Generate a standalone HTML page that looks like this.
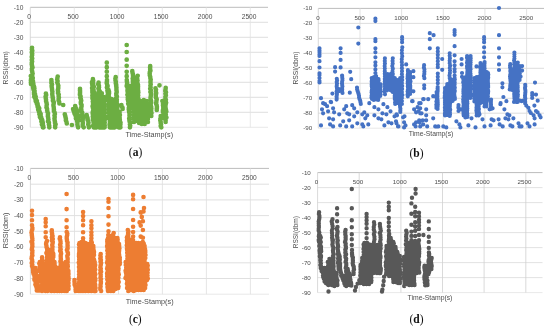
<!DOCTYPE html>
<html><head><meta charset="utf-8"><title>RSSI</title>
<style>
html,body{margin:0;padding:0;background:#fff}
svg{display:block}
.t{font-family:"Liberation Sans",sans-serif;font-size:7px;fill:#4d4d4d}
.cap{font-family:"Liberation Serif",serif;font-size:11.5px;font-weight:bold;fill:#111}
.pr{font-weight:normal}
</style></head><body>
<svg width="550" height="328" viewBox="0 0 550 328">
<rect width="550" height="328" fill="#fff"/>
<defs><filter id="soft" x="0" y="0" width="550" height="328" filterUnits="userSpaceOnUse"><feGaussianBlur stdDeviation="0.4"/></filter></defs>
<g filter="url(#soft)">
<line x1="30.3" x2="268.0" y1="7.3" y2="7.3" stroke="#bcbcbc" stroke-width="1.0"/>
<line x1="30.3" x2="268.0" y1="22.3" y2="22.3" stroke="#d6d6d6" stroke-width="0.8"/>
<line x1="30.3" x2="268.0" y1="37.3" y2="37.3" stroke="#d6d6d6" stroke-width="0.8"/>
<line x1="30.3" x2="268.0" y1="52.3" y2="52.3" stroke="#d6d6d6" stroke-width="0.8"/>
<line x1="30.3" x2="268.0" y1="67.3" y2="67.3" stroke="#d6d6d6" stroke-width="0.8"/>
<line x1="30.3" x2="268.0" y1="82.3" y2="82.3" stroke="#d6d6d6" stroke-width="0.8"/>
<line x1="30.3" x2="268.0" y1="97.3" y2="97.3" stroke="#d6d6d6" stroke-width="0.8"/>
<line x1="30.3" x2="268.0" y1="112.3" y2="112.3" stroke="#d6d6d6" stroke-width="0.8"/>
<line x1="30.3" x2="268.0" y1="127.3" y2="127.3" stroke="#e2e2e2" stroke-width="0.8"/>
<line x1="30.3" x2="30.3" y1="7.3" y2="127.3" stroke="#cfcfcf" stroke-width="0.8"/>
<line x1="74.3" x2="74.3" y1="7.3" y2="127.3" stroke="#e2e2e2" stroke-width="0.8"/>
<line x1="118.3" x2="118.3" y1="7.3" y2="127.3" stroke="#e2e2e2" stroke-width="0.8"/>
<line x1="162.3" x2="162.3" y1="7.3" y2="127.3" stroke="#e2e2e2" stroke-width="0.8"/>
<line x1="206.3" x2="206.3" y1="7.3" y2="127.3" stroke="#e2e2e2" stroke-width="0.8"/>
<line x1="250.3" x2="250.3" y1="7.3" y2="127.3" stroke="#e2e2e2" stroke-width="0.8"/>
<text class="t" x="23.4" y="9.6" text-anchor="end" style="font-size:6.6px">-10</text>
<text class="t" x="23.4" y="24.6" text-anchor="end" style="font-size:6.6px">-20</text>
<text class="t" x="23.4" y="39.6" text-anchor="end" style="font-size:6.6px">-30</text>
<text class="t" x="23.4" y="54.6" text-anchor="end" style="font-size:6.6px">-40</text>
<text class="t" x="23.4" y="69.6" text-anchor="end" style="font-size:6.6px">-50</text>
<text class="t" x="23.4" y="84.6" text-anchor="end" style="font-size:6.6px">-60</text>
<text class="t" x="23.4" y="99.6" text-anchor="end" style="font-size:6.6px">-70</text>
<text class="t" x="23.4" y="114.6" text-anchor="end" style="font-size:6.6px">-80</text>
<text class="t" x="23.4" y="129.6" text-anchor="end" style="font-size:6.6px">-90</text>
<text class="t" x="29.1" y="18.5" text-anchor="middle" style="font-size:6.6px">0</text>
<text class="t" x="73.1" y="18.5" text-anchor="middle" style="font-size:6.6px">500</text>
<text class="t" x="117.1" y="18.5" text-anchor="middle" style="font-size:6.6px">1000</text>
<text class="t" x="161.1" y="18.5" text-anchor="middle" style="font-size:6.6px">1500</text>
<text class="t" x="205.1" y="18.5" text-anchor="middle" style="font-size:6.6px">2000</text>
<text class="t" x="249.1" y="18.5" text-anchor="middle" style="font-size:6.6px">2500</text>
<text class="t" x="8.1" y="67.8" text-anchor="middle" transform="rotate(-90 8.1 67.8)" style="font-size:7.4px" textLength="33.2" lengthAdjust="spacingAndGlyphs">RSSI(dbm)</text>
<text class="t" x="149.3" y="136.7" text-anchor="middle" style="font-size:7.4px" textLength="47.5" lengthAdjust="spacingAndGlyphs">Time-Stamp(s)</text>
<text class="cap" x="135.5" y="156.0" text-anchor="middle"><tspan class="pr">(</tspan>a<tspan class="pr">)</tspan></text>
<path d="M32.0 47.8h0M31.9 49.3h0M32.3 50.8h0M31.8 52.3h0M32.2 53.8h0M32.1 55.3h0M31.8 56.9h0M32.2 58.4h0M31.8 59.9h0M32.1 61.4h0M31.8 62.9h0M31.8 64.4h0M32.1 65.9h0M32.5 67.4h0M31.9 68.9h0M32.0 70.5h0M32.3 72.0h0M32.6 73.5h0M32.3 75.0h0M32.1 76.5h0M32.6 78.0h0M30.8 76.0h0M31.5 77.6h0M31.0 79.2h0M30.9 80.8h0M30.9 82.4h0M31.0 84.0h0M32.8 78.0h0M32.4 79.4h0M32.9 80.9h0M33.1 82.3h0M33.0 83.8h0M33.3 85.2h0M33.0 86.7h0M33.2 88.1h0M33.5 89.6h0M34.0 91.0h0M34.0 92.5h0M34.0 93.9h0M34.4 95.4h0M34.5 96.8h0M34.3 96.8h0M35.2 98.2h0M35.6 99.7h0M35.7 101.1h0M36.5 102.5h0M36.9 103.9h0M37.7 105.4h0M38.0 106.8h0M37.6 106.8h0M38.6 108.3h0M38.2 109.7h0M38.8 111.2h0M39.5 112.7h0M39.3 114.1h0M39.9 115.6h0M39.9 117.0h0M40.8 118.5h0M41.3 120.0h0M41.4 121.4h0M42.1 122.9h0M41.9 124.4h0M42.6 125.8h0M42.9 127.3h0M33.4 84.0h0M33.5 85.4h0M34.1 86.8h0M34.4 88.3h0M34.2 89.7h0M34.6 91.1h0M34.2 92.5h0M35.0 94.0h0M35.2 95.4h0M35.7 96.8h0M35.6 96.8h0M35.6 98.2h0M36.1 99.7h0M36.9 101.1h0M36.8 102.5h0M37.6 103.9h0M37.8 105.4h0M38.3 106.8h0M38.2 106.8h0M39.2 108.3h0M39.0 109.7h0M39.4 111.2h0M39.9 112.7h0M40.7 114.1h0M40.4 115.6h0M41.1 117.0h0M41.5 118.5h0M42.2 120.0h0M42.5 121.4h0M42.9 122.9h0M42.7 124.4h0M43.2 125.8h0M43.5 127.3h0M45.9 93.6h0M46.2 95.1h0M45.6 96.7h0M45.8 98.2h0M46.0 99.7h0M46.1 101.3h0M46.5 102.8h0M46.8 104.3h0M46.6 105.9h0M46.5 107.4h0M47.1 108.9h0M47.2 110.4h0M47.5 112.0h0M48.0 113.5h0M47.9 115.0h0M47.9 116.6h0M48.2 118.1h0M48.4 119.6h0M48.0 121.2h0M48.9 122.7h0M48.9 124.2h0M49.2 125.8h0M49.3 127.3h0M51.4 80.0h0M51.5 81.5h0M51.4 83.0h0M52.0 84.4h0M51.6 85.9h0M51.8 87.4h0M52.0 88.9h0M52.1 90.3h0M52.4 91.8h0M52.3 93.3h0M52.3 94.8h0M52.6 96.3h0M52.7 97.7h0M53.0 99.2h0M52.9 100.7h0M53.8 102.2h0M53.7 103.7h0M53.4 105.1h0M53.6 106.6h0M53.8 108.1h0M53.9 109.6h0M53.9 111.0h0M54.6 112.5h0M54.9 114.0h0M54.5 115.5h0M54.7 117.0h0M54.5 118.4h0M54.6 119.9h0M54.9 121.4h0M55.0 122.9h0M55.6 124.3h0M55.2 125.8h0M55.2 127.3h0M57.7 76.5h0M57.4 78.0h0M57.2 79.5h0M57.6 81.0h0M57.3 82.5h0M57.8 84.0h0M58.3 85.5h0M58.3 87.0h0M58.2 88.5h0M57.9 90.0h0M58.1 91.5h0M58.0 93.0h0M58.7 94.5h0M58.6 96.0h0M58.9 97.5h0M58.6 99.0h0M58.6 100.5h0M59.2 102.0h0M59.4 103.5h0M63.2 105.0h0M64.8 114.3h0M65.2 115.8h0M65.6 117.4h0M65.9 118.9h0M65.9 120.4h0M66.5 122.0h0M66.8 123.5h0M71.9 125.0h0M73.1 109.0h0M73.5 110.5h0M74.1 112.0h0M74.5 113.6h0M75.3 115.1h0M75.9 116.6h0M75.9 118.2h0M76.7 119.7h0M77.1 121.2h0M77.5 122.7h0M77.4 124.2h0M77.6 125.8h0M78.1 127.3h0M75.2 106.0h0M75.6 107.6h0M76.4 109.1h0M77.0 110.7h0M77.4 112.2h0M77.4 113.8h0M78.0 115.3h0M78.5 116.9h0M78.2 118.4h0M79.1 120.0h0M80.0 88.9h0M80.0 90.4h0M80.1 91.9h0M80.0 93.3h0M79.9 94.8h0M80.6 96.3h0M80.3 97.8h0M80.9 99.2h0M81.2 100.7h0M80.8 102.2h0M80.9 103.7h0M81.6 105.1h0M81.5 106.6h0M81.2 108.1h0M81.3 109.6h0M81.4 111.1h0M82.2 112.5h0M82.3 114.0h0M81.8 115.5h0M82.6 117.0h0M82.9 118.4h0M82.7 119.9h0M82.6 121.4h0M82.9 122.9h0M82.7 124.3h0M82.7 125.8h0M83.7 127.3h0M86.7 115.2h0M86.9 116.7h0M87.6 118.2h0M87.5 119.7h0M88.2 121.2h0M88.5 122.8h0M88.2 124.3h0M88.6 125.8h0M88.9 127.3h0M92.9 79.2h0M93.2 80.7h0M93.0 82.2h0M93.2 83.7h0M93.0 85.2h0M93.8 86.7h0M93.3 88.2h0M93.5 89.7h0M93.7 91.2h0M94.0 92.7h0M93.6 94.2h0M94.1 95.7h0M93.8 97.2h0M93.9 98.7h0M94.0 100.2h0M93.6 101.7h0M94.0 103.2h0M93.8 104.8h0M93.7 106.3h0M94.5 107.8h0M94.0 109.3h0M94.3 110.8h0M94.6 112.3h0M94.5 113.8h0M94.4 115.3h0M94.6 116.8h0M94.7 118.3h0M95.0 119.8h0M94.4 121.3h0M94.9 122.8h0M94.7 124.3h0M94.7 125.8h0M95.2 127.3h0M92.0 82.0h0M92.1 83.5h0M92.3 85.0h0M92.5 86.5h0M92.1 88.0h0M92.4 89.5h0M92.3 91.1h0M92.4 92.6h0M92.6 94.1h0M92.4 95.6h0M92.5 97.1h0M92.5 98.6h0M93.0 100.1h0M92.8 101.6h0M93.0 103.1h0M93.1 104.7h0M92.6 106.2h0M92.9 107.7h0M93.3 109.2h0M93.3 110.7h0M92.7 112.2h0M92.7 113.7h0M93.0 115.2h0M92.8 116.7h0M93.0 118.2h0M92.9 119.8h0M93.5 121.3h0M93.6 122.8h0M93.8 124.3h0M93.1 125.8h0M93.7 127.3h0M98.6 82.7h0M98.2 84.2h0M98.9 85.7h0M99.0 87.2h0M98.4 88.6h0M99.1 90.1h0M98.6 91.6h0M98.7 93.1h0M99.2 94.6h0M99.1 96.1h0M98.5 97.6h0M98.8 99.1h0M98.9 100.5h0M98.8 102.0h0M98.7 103.5h0M98.8 105.0h0M99.2 106.5h0M98.6 108.0h0M99.1 109.5h0M99.1 110.9h0M98.7 112.4h0M99.0 113.9h0M99.3 115.4h0M99.3 116.9h0M98.9 118.4h0M99.8 119.9h0M99.6 121.4h0M99.8 122.8h0M99.1 124.3h0M99.3 125.8h0M99.1 127.3h0M101.8 93.3h0M101.4 94.8h0M101.3 96.3h0M101.6 97.7h0M102.1 99.2h0M102.1 100.7h0M101.7 102.2h0M101.6 103.6h0M102.4 105.1h0M102.2 106.6h0M102.3 108.1h0M101.8 109.6h0M101.9 111.0h0M102.5 112.5h0M102.3 114.0h0M102.1 115.5h0M102.9 117.0h0M102.7 118.4h0M102.9 119.9h0M102.4 121.4h0M103.1 122.9h0M102.5 124.3h0M103.3 125.8h0M103.0 127.3h0M103.9 97.0h0M104.1 98.5h0M104.5 100.0h0M103.9 101.5h0M103.9 103.1h0M104.3 104.6h0M104.1 106.1h0M104.0 107.6h0M104.1 109.1h0M104.0 110.6h0M104.2 112.2h0M104.4 113.7h0M104.4 115.2h0M104.9 116.7h0M104.5 118.2h0M104.8 119.7h0M104.5 121.2h0M104.7 122.8h0M104.5 124.3h0M104.7 125.8h0M104.6 127.3h0M106.8 62.7h0M106.8 67.2h0M106.8 71.7h0M106.8 76.2h0M107.0 80.0h0M106.9 81.5h0M106.7 83.0h0M107.1 84.4h0M107.6 85.9h0M106.9 87.4h0M107.7 88.9h0M107.4 90.3h0M107.6 91.8h0M108.0 93.3h0M107.7 94.8h0M107.9 96.3h0M108.2 97.7h0M108.5 99.2h0M108.1 100.7h0M108.6 102.2h0M108.6 103.7h0M108.6 105.1h0M108.5 106.6h0M108.6 108.1h0M108.4 109.6h0M108.6 111.0h0M108.6 112.5h0M109.3 114.0h0M109.0 115.5h0M109.0 117.0h0M109.0 118.4h0M109.8 119.9h0M109.9 121.4h0M109.9 122.9h0M109.6 124.3h0M109.7 125.8h0M109.8 127.3h0M111.5 99.0h0M111.3 100.5h0M111.6 102.0h0M111.5 103.5h0M112.2 105.0h0M112.3 106.4h0M112.0 107.9h0M111.8 109.4h0M112.6 110.9h0M112.0 112.4h0M112.2 113.9h0M111.9 115.4h0M112.3 116.9h0M112.5 118.4h0M112.6 119.9h0M112.4 121.3h0M112.8 122.8h0M112.4 124.3h0M112.7 125.8h0M112.6 127.3h0M115.7 77.2h0M115.4 78.7h0M115.5 80.2h0M115.8 81.7h0M115.8 83.2h0M116.1 84.7h0M116.2 86.1h0M116.4 87.6h0M116.4 89.1h0M116.5 90.6h0M116.7 92.1h0M116.3 93.6h0M116.3 95.1h0M116.9 96.6h0M116.2 98.1h0M116.8 99.6h0M116.8 101.1h0M116.3 102.5h0M117.1 104.0h0M117.2 105.5h0M117.0 107.0h0M117.2 108.5h0M117.3 110.0h0M117.2 110.0h0M117.6 111.4h0M117.8 112.9h0M118.2 114.3h0M118.3 115.8h0M118.4 117.2h0M118.3 118.7h0M118.7 120.1h0M118.7 121.5h0M118.8 123.0h0M118.5 124.4h0M118.5 125.9h0M118.7 127.3h0M121.4 105.0h0M121.5 106.3h0M122.5 107.7h0M122.6 109.0h0M126.7 45.0h0M126.7 52.0h0M126.7 59.7h0M126.7 65.8h0M126.7 71.8h0M126.7 76.2h0M126.8 80.0h0M126.9 81.5h0M127.1 83.0h0M127.0 84.4h0M126.7 85.9h0M127.5 87.4h0M127.6 88.9h0M127.5 90.3h0M127.6 91.8h0M127.9 93.3h0M127.4 94.8h0M128.2 96.3h0M127.8 97.7h0M127.8 99.2h0M128.1 100.7h0M128.6 102.2h0M128.2 103.7h0M128.8 105.1h0M129.2 106.6h0M128.8 108.1h0M128.8 109.6h0M129.0 111.0h0M129.3 112.5h0M129.5 114.0h0M129.5 115.5h0M129.6 117.0h0M129.2 118.4h0M129.4 119.9h0M129.6 121.4h0M130.2 122.9h0M129.9 124.3h0M130.2 125.8h0M129.9 127.3h0M132.3 71.2h0M132.5 72.7h0M132.9 74.2h0M133.0 75.7h0M133.0 77.2h0M132.7 78.7h0M132.9 80.2h0M132.9 81.7h0M133.0 83.2h0M132.7 84.6h0M133.4 86.1h0M132.8 87.6h0M133.6 89.1h0M133.6 90.6h0M132.8 92.1h0M133.2 93.6h0M133.6 95.1h0M133.8 96.6h0M133.3 98.1h0M133.2 99.6h0M133.2 101.1h0M133.9 102.6h0M133.3 104.1h0M133.7 105.6h0M133.3 107.1h0M133.7 108.6h0M134.1 110.0h0M133.4 111.5h0M134.1 113.0h0M133.8 114.5h0M134.2 116.0h0M134.1 117.5h0M133.7 119.0h0M134.3 120.5h0M134.0 122.0h0M134.6 80.0h0M134.6 81.5h0M135.1 83.0h0M135.1 84.6h0M135.0 86.1h0M134.9 87.6h0M135.1 89.1h0M135.1 90.6h0M135.6 92.1h0M134.9 93.7h0M135.6 95.2h0M135.7 96.7h0M135.1 98.2h0M135.9 99.7h0M135.7 101.3h0M135.9 102.8h0M135.4 104.3h0M135.5 105.8h0M135.6 107.3h0M136.2 108.9h0M135.8 110.4h0M135.7 111.9h0M135.8 113.4h0M135.6 114.9h0M135.5 116.4h0M135.6 118.0h0M136.3 119.5h0M135.8 121.0h0M137.7 75.8h0M137.1 77.3h0M137.2 78.8h0M137.5 80.4h0M137.2 81.9h0M137.5 83.4h0M138.0 84.9h0M138.0 86.5h0M138.0 88.0h0M137.9 89.5h0M138.2 91.0h0M138.3 92.5h0M138.0 94.1h0M138.2 95.6h0M137.7 97.1h0M138.3 98.6h0M138.1 100.2h0M138.5 101.7h0M138.4 103.2h0M138.1 104.7h0M138.0 106.3h0M138.8 107.8h0M138.2 109.3h0M138.5 110.8h0M138.5 112.3h0M138.5 113.9h0M138.9 115.4h0M139.2 116.9h0M138.6 118.4h0M139.0 120.0h0M138.8 121.5h0M139.1 123.0h0M140.9 101.0h0M140.8 102.5h0M140.8 104.1h0M140.9 105.6h0M141.6 107.1h0M141.3 108.7h0M141.1 110.2h0M141.8 111.7h0M142.0 113.3h0M141.6 114.8h0M141.3 116.3h0M141.5 117.9h0M141.4 119.4h0M141.7 120.9h0M141.6 122.5h0M141.8 124.0h0M143.8 100.0h0M144.1 101.5h0M144.5 103.0h0M144.4 104.5h0M144.2 106.0h0M144.2 107.5h0M144.4 109.0h0M144.3 110.5h0M144.4 112.0h0M144.2 113.5h0M144.4 115.0h0M145.1 116.5h0M144.4 118.0h0M144.8 119.5h0M145.0 121.0h0M145.3 122.5h0M144.7 124.0h0M146.8 101.0h0M146.8 102.5h0M147.1 104.0h0M147.2 105.5h0M147.7 107.0h0M147.7 108.5h0M147.8 110.0h0M147.1 111.5h0M147.2 113.0h0M147.8 114.5h0M148.1 116.0h0M147.8 117.5h0M147.9 119.0h0M147.5 120.5h0M147.9 122.0h0M150.2 66.2h0M150.1 67.7h0M150.2 69.2h0M150.4 70.7h0M149.8 72.2h0M149.7 73.7h0M149.8 75.3h0M150.2 76.8h0M150.4 78.3h0M150.7 79.8h0M150.5 81.3h0M150.5 82.8h0M150.7 84.3h0M150.4 85.8h0M150.6 87.3h0M150.2 88.8h0M150.9 90.3h0M150.4 91.9h0M151.1 93.4h0M150.9 94.9h0M150.7 96.4h0M150.5 97.9h0M150.7 99.4h0M151.1 100.9h0M151.2 102.4h0M150.7 103.9h0M150.8 105.4h0M151.2 106.9h0M151.3 108.5h0M151.2 110.0h0M151.1 111.5h0M151.5 113.0h0M151.0 114.5h0M151.3 116.0h0M155.5 88.3h0M156.0 89.8h0M155.8 91.4h0M156.2 93.0h0M155.9 94.5h0M155.8 96.0h0M155.9 97.6h0M156.7 99.2h0M156.5 100.7h0M156.3 102.2h0M156.1 103.8h0M156.7 105.3h0M156.9 106.9h0M156.8 108.5h0M156.8 110.0h0M159.5 85.3h0M160.7 116.0h0M160.9 117.4h0M160.4 118.8h0M160.3 120.2h0M160.6 121.7h0M160.7 123.1h0M161.0 124.5h0M160.7 125.9h0M161.3 127.3h0M165.7 87.9h0M165.5 89.4h0M165.3 90.9h0M166.0 92.3h0M165.4 93.8h0M165.9 95.3h0M165.4 96.8h0M165.4 98.3h0M165.9 99.8h0M165.5 101.2h0M166.1 102.7h0M165.7 104.2h0M165.5 105.7h0M165.5 107.2h0M165.7 108.7h0M166.0 110.1h0M166.3 111.6h0M165.6 113.1h0M165.8 114.6h0M165.7 116.1h0M166.4 117.6h0M165.6 119.0h0M165.6 120.5h0M165.6 122.0h0M162.4 101.0h0M162.9 102.5h0M163.0 104.1h0M163.0 105.6h0M163.3 107.2h0M163.3 108.7h0M162.9 110.3h0M162.9 111.8h0M163.6 113.4h0M163.5 114.9h0M163.0 116.5h0M163.6 118.0h0M96.4 95.0h0M96.4 96.5h0M96.4 97.9h0M96.3 99.4h0M96.1 100.9h0M96.4 102.3h0M96.5 103.8h0M97.1 105.3h0M96.3 106.7h0M97.1 108.2h0M96.5 109.7h0M96.6 111.2h0M97.1 112.6h0M97.1 114.1h0M96.8 115.6h0M96.4 117.0h0M96.8 118.5h0M96.8 120.0h0M97.3 121.4h0M96.7 122.9h0M96.8 124.4h0M97.3 125.8h0M96.6 127.3h0M100.2 92.0h0M100.6 93.5h0M100.6 94.9h0M100.0 96.4h0M100.0 97.9h0M100.1 99.4h0M100.9 100.8h0M100.3 102.3h0M100.8 103.8h0M100.9 105.2h0M100.4 106.7h0M100.4 108.2h0M101.1 109.7h0M100.8 111.1h0M100.5 112.6h0M100.9 114.1h0M100.6 115.5h0M100.6 117.0h0M100.4 118.5h0M101.1 119.9h0M101.3 121.4h0M101.0 122.9h0M101.3 124.4h0M100.5 125.8h0M100.8 127.3h0M108.5 90.0h0M109.0 91.5h0M109.1 93.0h0M108.8 94.5h0M108.8 96.0h0M109.0 97.5h0M109.2 99.0h0M109.7 100.4h0M109.2 101.9h0M109.9 103.4h0M109.9 104.9h0M110.1 106.4h0M110.2 107.9h0M110.2 109.4h0M110.0 110.9h0M110.1 112.4h0M110.3 113.9h0M110.8 115.4h0M110.3 116.9h0M110.5 118.3h0M111.1 119.8h0M110.8 121.3h0M110.7 122.8h0M110.8 124.3h0M111.4 125.8h0M111.3 127.3h0M113.9 100.0h0M113.9 101.5h0M114.1 103.0h0M113.5 104.5h0M113.5 106.1h0M113.6 107.6h0M114.0 109.1h0M114.3 110.6h0M114.1 112.1h0M114.0 113.7h0M114.3 115.2h0M114.5 116.7h0M114.7 118.2h0M114.8 119.7h0M115.0 121.2h0M114.9 122.8h0M114.5 124.3h0M115.2 125.8h0M114.8 127.3h0M119.6 112.0h0M119.5 113.5h0M119.9 115.1h0M119.5 116.6h0M119.7 118.1h0M119.8 119.7h0M119.8 121.2h0M120.5 122.7h0M120.4 124.2h0M120.2 125.8h0M120.4 127.3h0M129.2 86.0h0M128.9 87.5h0M128.8 88.9h0M129.5 90.4h0M129.5 91.9h0M129.9 93.3h0M129.2 94.8h0M129.7 96.3h0M130.2 97.7h0M130.3 99.2h0M130.5 100.7h0M129.9 102.1h0M130.2 103.6h0M130.2 105.1h0M130.4 106.5h0M131.2 108.0h0" stroke="#6cae42" stroke-width="4.7" stroke-linecap="round" fill="none"/>
<line x1="318.3" x2="544.0" y1="8.4" y2="8.4" stroke="#bcbcbc" stroke-width="1.0"/>
<line x1="318.3" x2="544.0" y1="23.4" y2="23.4" stroke="#d4d4d4" stroke-width="0.8"/>
<line x1="318.3" x2="544.0" y1="38.4" y2="38.4" stroke="#d4d4d4" stroke-width="0.8"/>
<line x1="318.3" x2="544.0" y1="53.3" y2="53.3" stroke="#d4d4d4" stroke-width="0.8"/>
<line x1="318.3" x2="544.0" y1="68.3" y2="68.3" stroke="#d4d4d4" stroke-width="0.8"/>
<line x1="318.3" x2="544.0" y1="83.3" y2="83.3" stroke="#d4d4d4" stroke-width="0.8"/>
<line x1="318.3" x2="544.0" y1="98.3" y2="98.3" stroke="#d4d4d4" stroke-width="0.8"/>
<line x1="318.3" x2="544.0" y1="113.2" y2="113.2" stroke="#d4d4d4" stroke-width="0.8"/>
<line x1="318.3" x2="544.0" y1="128.2" y2="128.2" stroke="#e2e2e2" stroke-width="0.8"/>
<line x1="318.3" x2="318.3" y1="8.4" y2="128.2" stroke="#cfcfcf" stroke-width="0.8"/>
<line x1="360.0" x2="360.0" y1="8.4" y2="128.2" stroke="#dadada" stroke-width="0.8"/>
<line x1="401.6" x2="401.6" y1="8.4" y2="128.2" stroke="#dadada" stroke-width="0.8"/>
<line x1="443.3" x2="443.3" y1="8.4" y2="128.2" stroke="#dadada" stroke-width="0.8"/>
<line x1="484.9" x2="484.9" y1="8.4" y2="128.2" stroke="#dadada" stroke-width="0.8"/>
<line x1="526.6" x2="526.6" y1="8.4" y2="128.2" stroke="#dadada" stroke-width="0.8"/>
<text class="t" x="312.2" y="9.9" text-anchor="end" style="font-size:6.2px">-10</text>
<text class="t" x="312.2" y="24.9" text-anchor="end" style="font-size:6.2px">-20</text>
<text class="t" x="312.2" y="39.9" text-anchor="end" style="font-size:6.2px">-30</text>
<text class="t" x="312.2" y="54.8" text-anchor="end" style="font-size:6.2px">-40</text>
<text class="t" x="312.2" y="69.8" text-anchor="end" style="font-size:6.2px">-50</text>
<text class="t" x="312.2" y="84.8" text-anchor="end" style="font-size:6.2px">-60</text>
<text class="t" x="312.2" y="99.8" text-anchor="end" style="font-size:6.2px">-70</text>
<text class="t" x="312.2" y="114.7" text-anchor="end" style="font-size:6.2px">-80</text>
<text class="t" x="312.2" y="129.7" text-anchor="end" style="font-size:6.2px">-90</text>
<text class="t" x="317.9" y="20.1" text-anchor="middle" style="font-size:6.2px">0</text>
<text class="t" x="359.6" y="20.1" text-anchor="middle" style="font-size:6.2px">500</text>
<text class="t" x="401.2" y="20.1" text-anchor="middle" style="font-size:6.2px">1000</text>
<text class="t" x="442.9" y="20.1" text-anchor="middle" style="font-size:6.2px">1500</text>
<text class="t" x="484.5" y="20.1" text-anchor="middle" style="font-size:6.2px">2000</text>
<text class="t" x="526.2" y="20.1" text-anchor="middle" style="font-size:6.2px">2500</text>
<text class="t" x="298.4" y="68.0" text-anchor="middle" transform="rotate(-90 298.4 68.0)" style="font-size:7.4px" textLength="33" lengthAdjust="spacingAndGlyphs">RSSI(dbm)</text>
<text class="t" x="431.0" y="136.2" text-anchor="middle" style="font-size:7.4px" textLength="44.6" lengthAdjust="spacingAndGlyphs">Time-Stamp(s)</text>
<text class="cap" x="416.5" y="156.5" text-anchor="middle"><tspan class="pr">(</tspan>b<tspan class="pr">)</tspan></text>
<path d="M319.5 48.3h0M319.5 50.2h0M319.5 52.0h0M319.5 54.3h0M319.5 56.0h0M319.5 61.2h0M319.5 67.5h0M319.5 73.3h0M319.5 75.0h0M319.5 78.0h0M319.5 81.0h0M319.5 82.4h0M335.1 67.2h0M335.1 71.6h0M336.8 78.8h0M337.1 80.4h0M336.7 82.0h0M337.0 83.6h0M336.8 85.2h0M336.7 86.8h0M337.0 88.4h0M337.1 90.0h0M336.6 91.6h0M336.9 93.2h0M336.9 94.8h0M336.6 96.4h0M336.7 98.0h0M336.6 99.6h0M338.9 89.0h0M339.6 91.0h0M332.4 93.6h0M330.7 101.8h0M340.6 48.3h0M340.6 52.9h0M340.6 59.9h0M340.6 67.4h0M342.1 75.5h0M342.2 77.1h0M342.4 78.7h0M342.4 80.3h0M342.1 81.9h0M342.0 83.5h0M342.2 85.0h0M342.4 86.6h0M342.1 88.2h0M342.2 89.8h0M342.1 91.4h0M342.5 93.0h0M350.2 71.8h0M351.2 79.2h0M349.8 92.7h0M357.0 87.5h0M357.1 89.2h0M357.5 90.8h0M358.1 92.5h0M358.6 94.1h0M359.0 95.8h0M359.1 97.4h0M359.5 99.0h0M360.2 100.7h0M360.5 102.3h0M360.8 104.0h0M358.3 27.5h0M358.3 43.6h0M375.4 18.7h0M375.4 21.1h0M375.4 39.2h0M375.4 41.2h0M375.4 48.3h0M375.4 52.3h0M375.4 57.3h0M375.4 62.3h0M375.4 65.4h0M375.4 69.4h0M375.4 73.0h0M371.7 78.0h0M372.1 79.6h0M371.7 81.2h0M371.8 82.8h0M371.7 84.5h0M371.7 86.1h0M372.0 87.7h0M372.1 89.3h0M371.7 90.9h0M371.6 92.5h0M371.9 94.2h0M371.6 95.8h0M371.5 97.4h0M372.0 99.0h0M374.0 77.0h0M374.2 78.6h0M373.9 80.3h0M374.2 81.9h0M374.0 83.6h0M373.8 85.2h0M373.7 86.9h0M374.0 88.5h0M374.1 90.1h0M374.2 91.8h0M373.8 93.4h0M374.1 95.1h0M373.9 96.7h0M374.0 98.4h0M373.8 100.0h0M376.1 76.0h0M376.2 77.6h0M376.5 79.1h0M376.0 80.7h0M376.2 82.2h0M376.4 83.8h0M376.5 85.4h0M376.0 86.9h0M376.0 88.5h0M376.5 90.0h0M376.5 91.6h0M376.2 93.2h0M375.9 94.7h0M376.5 96.3h0M376.1 97.8h0M376.4 99.4h0M378.5 79.0h0M378.6 80.6h0M378.2 82.2h0M378.6 83.8h0M378.2 85.5h0M378.3 87.1h0M378.6 88.7h0M378.6 90.3h0M378.2 91.9h0M378.2 93.5h0M378.3 95.2h0M378.4 96.8h0M378.3 98.4h0M378.2 100.0h0M380.2 84.0h0M380.5 85.5h0M380.6 87.0h0M380.1 88.5h0M380.4 90.0h0M380.6 91.5h0M380.1 93.0h0M380.6 94.5h0M380.2 96.0h0M384.9 58.3h0M384.8 60.9h0M384.9 63.4h0M384.7 66.0h0M384.8 68.6h0M384.8 71.2h0M384.8 73.7h0M384.9 76.3h0M384.8 78.9h0M384.8 81.4h0M384.5 84.0h0M384.9 86.6h0M384.8 89.2h0M384.6 91.7h0M385.0 94.3h0M387.6 74.2h0M387.4 75.8h0M387.2 77.4h0M387.4 79.0h0M387.2 80.6h0M387.2 82.2h0M387.4 83.9h0M387.2 85.5h0M387.4 87.1h0M387.4 88.7h0M387.1 90.3h0M390.6 74.2h0M390.2 75.8h0M390.6 77.4h0M390.7 79.0h0M390.5 80.6h0M390.2 82.2h0M390.5 83.9h0M390.4 85.5h0M390.8 87.1h0M390.3 88.7h0M390.7 90.3h0M392.8 58.3h0M392.6 60.9h0M392.7 63.5h0M392.3 66.1h0M392.8 68.7h0M392.5 71.3h0M392.8 73.9h0M392.7 76.4h0M392.3 79.0h0M392.7 81.6h0M392.8 84.2h0M392.2 86.8h0M392.4 89.4h0M392.7 92.0h0M394.8 78.0h0M395.2 79.6h0M394.9 81.2h0M395.2 82.9h0M394.8 84.5h0M395.0 86.1h0M395.3 87.8h0M394.8 89.4h0M394.9 91.0h0M395.0 92.6h0M394.9 94.2h0M394.7 95.9h0M394.8 97.5h0M394.8 99.1h0M395.3 100.8h0M395.1 102.4h0M395.2 104.0h0M397.3 80.0h0M397.7 81.6h0M397.3 83.3h0M397.5 84.9h0M397.6 86.6h0M397.4 88.2h0M397.7 89.9h0M397.5 91.5h0M397.5 93.1h0M397.7 94.8h0M397.3 96.4h0M397.8 98.1h0M397.6 99.7h0M397.4 101.4h0M397.7 103.0h0M400.2 78.0h0M400.6 79.6h0M400.3 81.2h0M400.2 82.9h0M400.5 84.5h0M400.3 86.1h0M400.1 87.7h0M400.4 89.3h0M400.0 91.0h0M400.5 92.6h0M400.2 94.2h0M400.4 95.8h0M400.6 97.4h0M400.4 99.0h0M400.4 100.7h0M400.2 102.3h0M400.0 103.9h0M400.0 105.5h0M400.1 107.1h0M400.4 108.8h0M400.3 110.4h0M400.3 112.0h0M402.1 37.2h0M402.1 39.6h0M402.1 42.2h0M402.3 47.3h0M401.9 50.3h0M401.9 53.3h0M402.2 56.3h0M401.8 59.2h0M401.8 62.2h0M402.0 65.2h0M401.9 68.2h0M402.0 71.2h0M401.9 74.2h0M402.2 77.1h0M402.2 80.1h0M401.9 83.1h0M402.2 86.1h0M402.1 89.1h0M401.9 92.1h0M402.4 95.0h0M401.9 98.0h0M401.9 101.0h0M401.9 104.0h0M406.2 64.4h0M407.9 70.2h0M408.0 71.8h0M408.0 73.5h0M407.7 75.1h0M407.7 76.7h0M407.5 78.4h0M407.9 80.0h0M407.8 81.6h0M407.7 83.2h0M407.9 84.9h0M407.8 86.5h0M408.1 88.1h0M407.9 89.8h0M407.6 91.4h0M408.0 93.0h0M407.5 94.7h0M407.8 96.3h0M410.1 72.0h0M410.0 73.6h0M409.9 75.1h0M410.4 76.7h0M409.9 78.3h0M410.2 79.9h0M410.5 81.4h0M410.0 83.0h0M410.0 84.6h0M410.3 86.1h0M410.2 87.7h0M410.3 89.3h0M410.4 90.9h0M410.0 92.4h0M410.1 94.0h0M413.4 71.2h0M413.4 77.2h0M413.4 91.3h0M424.1 65.2h0M423.9 67.4h0M424.4 69.5h0M424.4 71.7h0M424.3 73.9h0M423.9 76.0h0M424.4 78.2h0M424.2 85.3h0M424.2 88.3h0M429.8 33.2h0M429.8 39.2h0M429.8 48.3h0M433.6 35.2h0M437.8 48.3h0M437.8 51.5h0M437.8 54.8h0M437.8 58.0h0M437.8 61.3h0M437.8 64.5h0M437.8 67.2h0M437.8 73.6h0M437.8 76.8h0M437.8 80.0h0M437.8 83.2h0M437.7 87.0h0M437.6 88.6h0M437.7 90.1h0M437.6 91.7h0M437.4 93.3h0M437.4 94.9h0M437.4 96.4h0M437.3 98.0h0M437.5 99.6h0M437.7 101.1h0M437.7 102.7h0M437.8 104.3h0M437.7 105.9h0M437.5 107.4h0M437.6 109.0h0M436.6 92.0h0M436.8 93.6h0M436.6 95.2h0M436.5 96.8h0M436.7 98.4h0M436.9 100.0h0M436.4 101.6h0M436.8 103.2h0M436.3 104.8h0M436.5 106.4h0M436.4 108.0h0M442.2 59.0h0M442.2 69.8h0M445.0 88.0h0M445.2 89.6h0M445.0 91.2h0M444.8 92.9h0M445.1 94.5h0M444.8 96.1h0M444.7 97.7h0M445.1 99.3h0M445.0 100.9h0M445.0 102.6h0M445.0 104.2h0M445.2 105.8h0M444.9 107.4h0M445.1 109.0h0M445.0 110.6h0M445.1 112.3h0M444.9 113.9h0M445.0 115.5h0M447.3 84.0h0M447.2 85.6h0M447.1 87.3h0M447.4 88.9h0M447.0 90.5h0M447.5 92.2h0M447.1 93.8h0M447.0 95.4h0M447.1 97.1h0M447.6 98.7h0M447.2 100.3h0M447.1 101.9h0M447.0 103.6h0M447.0 105.2h0M447.4 106.8h0M447.4 108.5h0M447.4 110.1h0M447.4 111.7h0M447.0 113.4h0M447.4 115.0h0M449.9 78.0h0M450.2 79.6h0M450.2 81.2h0M450.2 82.8h0M449.7 84.3h0M450.2 85.9h0M450.2 87.5h0M450.3 89.1h0M449.8 90.7h0M449.8 92.2h0M449.8 93.8h0M449.7 95.4h0M450.2 97.0h0M450.2 98.6h0M450.1 100.2h0M450.2 101.8h0M450.1 103.3h0M449.9 104.9h0M449.8 106.5h0M449.8 108.1h0M450.2 109.7h0M449.8 111.2h0M449.9 112.8h0M450.0 114.4h0M449.7 116.0h0M449.7 53.3h0M449.7 55.8h0M449.9 58.2h0M449.7 60.7h0M449.7 63.2h0M450.1 65.7h0M449.8 68.1h0M450.0 70.6h0M449.9 73.1h0M449.5 75.5h0M449.7 78.0h0M454.6 30.2h0M454.6 32.2h0M454.6 34.8h0M454.6 46.2h0M454.6 55.3h0M454.6 61.3h0M454.6 65.3h0M454.6 69.1h0M454.6 71.7h0M454.6 75.5h0M454.6 78.0h0M454.8 79.6h0M454.5 81.2h0M454.7 82.8h0M454.6 84.5h0M454.4 86.1h0M454.8 87.7h0M454.4 89.3h0M454.8 90.9h0M454.4 92.5h0M454.3 94.2h0M454.4 95.8h0M454.8 97.4h0M454.9 99.0h0M452.3 80.0h0M452.6 81.6h0M452.6 83.2h0M452.8 84.8h0M452.4 86.5h0M452.6 88.1h0M452.5 89.7h0M452.8 91.3h0M452.5 92.9h0M452.9 94.5h0M452.5 96.2h0M452.4 97.8h0M452.7 99.4h0M452.6 101.0h0M458.5 105.0h0M458.5 108.0h0M458.5 111.0h0M461.6 59.0h0M461.6 64.4h0M462.0 73.0h0M462.0 76.8h0M463.3 79.0h0M463.6 80.6h0M463.2 82.2h0M463.7 83.8h0M463.6 85.3h0M463.7 86.9h0M463.6 88.5h0M463.4 90.1h0M463.4 91.7h0M463.4 93.3h0M463.7 94.9h0M463.3 96.5h0M463.7 98.0h0M463.2 99.6h0M463.3 101.2h0M463.4 102.8h0M463.7 104.4h0M463.5 106.0h0M463.4 107.6h0M463.7 109.2h0M463.3 110.7h0M463.5 112.3h0M463.5 113.9h0M463.7 115.5h0M465.8 77.0h0M465.7 78.6h0M465.5 80.2h0M465.5 81.9h0M465.4 83.5h0M465.8 85.1h0M465.7 86.7h0M465.7 88.3h0M465.4 90.0h0M465.6 91.6h0M465.8 93.2h0M465.6 94.8h0M465.4 96.4h0M465.6 98.1h0M465.8 99.7h0M465.4 101.3h0M465.4 102.9h0M465.5 104.5h0M465.7 106.2h0M465.8 107.8h0M465.4 109.4h0M465.4 111.0h0M465.4 112.6h0M465.5 114.3h0M465.6 115.9h0M465.4 117.5h0M467.1 56.0h0M467.0 57.7h0M467.5 59.4h0M467.3 61.1h0M467.0 62.8h0M467.5 64.5h0M467.0 66.2h0M467.1 67.9h0M467.5 69.6h0M467.4 71.2h0M467.3 72.9h0M467.2 74.6h0M467.0 76.3h0M467.3 78.0h0M467.0 79.7h0M467.0 81.4h0M467.1 83.1h0M466.9 84.8h0M467.1 86.5h0M467.4 88.2h0M467.3 89.9h0M467.2 91.6h0M467.3 93.3h0M467.2 95.0h0M467.0 96.7h0M467.3 98.4h0M467.1 100.1h0M467.3 101.8h0M467.4 103.4h0M467.2 105.1h0M467.2 106.8h0M467.3 108.5h0M467.2 110.2h0M467.0 111.9h0M467.3 113.6h0M467.4 115.3h0M467.4 117.0h0M470.6 56.0h0M470.7 58.2h0M470.6 60.4h0M470.6 62.6h0M470.5 64.8h0M470.4 67.1h0M470.6 69.3h0M470.3 71.5h0M470.5 73.7h0M470.7 75.9h0M470.6 78.1h0M470.6 80.3h0M470.4 82.5h0M470.5 84.7h0M470.5 86.9h0M470.6 89.2h0M470.4 91.4h0M470.6 93.6h0M470.8 95.8h0M470.3 98.0h0M476.5 66.4h0M474.5 78.0h0M474.6 79.6h0M474.3 81.1h0M474.4 82.7h0M474.7 84.3h0M474.1 85.8h0M474.4 87.4h0M474.2 89.0h0M474.6 90.5h0M474.7 92.1h0M474.4 93.7h0M474.2 95.2h0M474.4 96.8h0M474.4 98.4h0M474.5 99.9h0M474.4 101.5h0M476.7 77.0h0M476.8 78.6h0M476.6 80.2h0M476.5 81.8h0M476.9 83.4h0M476.4 85.0h0M476.7 86.6h0M476.5 88.2h0M476.8 89.8h0M476.4 91.4h0M476.9 93.0h0M476.5 94.6h0M476.3 96.2h0M476.5 97.9h0M476.5 99.5h0M476.3 101.1h0M476.6 102.7h0M476.6 104.3h0M476.7 105.9h0M476.5 107.5h0M476.5 109.1h0M476.4 110.7h0M476.7 112.3h0M476.9 113.9h0M476.6 115.5h0M478.5 77.0h0M478.9 78.6h0M478.6 80.2h0M478.5 81.8h0M478.5 83.4h0M478.9 85.0h0M478.9 86.6h0M478.8 88.2h0M478.7 89.8h0M478.7 91.4h0M478.5 93.0h0M479.0 94.6h0M478.6 96.2h0M478.8 97.9h0M478.9 99.5h0M478.9 101.1h0M478.7 102.7h0M478.6 104.3h0M478.7 105.9h0M478.5 107.5h0M478.9 109.1h0M478.6 110.7h0M478.9 112.3h0M478.6 113.9h0M478.6 115.5h0M480.5 63.0h0M480.6 64.6h0M480.4 66.2h0M480.3 67.8h0M480.7 69.4h0M480.5 71.0h0M480.4 72.6h0M480.5 74.2h0M480.6 75.8h0M480.6 77.4h0M480.7 79.0h0M480.7 80.6h0M480.5 82.2h0M480.9 83.8h0M480.8 85.4h0M480.3 87.0h0M480.8 88.6h0M480.8 90.2h0M480.8 91.8h0M480.4 93.4h0M480.8 95.0h0M480.7 96.6h0M480.3 98.2h0M480.3 99.8h0M480.9 101.4h0M480.7 103.0h0M482.6 66.0h0M482.5 67.6h0M482.5 69.3h0M482.5 70.9h0M482.9 72.5h0M482.6 74.2h0M482.5 75.8h0M482.9 77.5h0M482.9 79.1h0M482.5 80.7h0M482.9 82.4h0M482.8 84.0h0M482.9 85.6h0M482.8 87.3h0M482.9 88.9h0M482.9 90.5h0M482.9 92.2h0M482.5 93.8h0M482.8 95.5h0M482.7 97.1h0M482.8 98.7h0M482.7 100.4h0M482.9 102.0h0M484.6 62.0h0M484.5 63.6h0M484.4 65.2h0M484.4 66.8h0M484.6 68.4h0M484.3 69.9h0M484.6 71.5h0M484.4 73.1h0M484.6 74.7h0M484.6 76.3h0M484.6 77.9h0M484.8 79.5h0M484.3 81.1h0M484.8 82.7h0M484.6 84.2h0M484.6 85.8h0M484.7 87.4h0M484.8 89.0h0M484.5 90.6h0M484.6 92.2h0M484.9 93.8h0M484.3 95.4h0M484.7 97.0h0M484.7 98.6h0M484.3 100.1h0M484.7 101.7h0M484.7 103.3h0M484.9 104.9h0M484.5 106.5h0M486.8 72.0h0M486.5 73.6h0M486.5 75.1h0M486.7 76.7h0M486.2 78.3h0M486.6 79.8h0M486.6 81.4h0M486.4 83.0h0M486.7 84.5h0M486.4 86.1h0M486.5 87.7h0M486.5 89.2h0M486.7 90.8h0M486.3 92.4h0M486.5 94.0h0M486.5 95.5h0M486.5 97.1h0M486.7 98.7h0M486.4 100.2h0M486.7 101.8h0M486.4 103.4h0M486.5 104.9h0M486.4 106.5h0M484.1 37.2h0M484.1 39.6h0M484.1 42.2h0M484.1 47.3h0M484.1 52.3h0M484.1 57.3h0M488.0 73.0h0M488.3 74.6h0M488.1 76.1h0M488.2 77.7h0M487.9 79.3h0M487.9 80.9h0M487.9 82.4h0M488.1 84.0h0M488.1 85.6h0M488.2 87.1h0M487.7 88.7h0M488.1 90.3h0M488.2 91.8h0M488.0 93.4h0M487.7 95.0h0M487.9 96.6h0M487.7 98.1h0M487.8 99.7h0M491.1 99.7h0M490.9 101.2h0M490.9 102.8h0M491.0 104.3h0M491.0 105.9h0M490.9 107.5h0M490.9 109.0h0M499.0 8.0h0M499.0 35.2h0M499.0 48.3h0M499.0 57.3h0M499.0 64.4h0M499.0 70.0h0M502.4 83.3h0M502.4 87.3h0M503.4 97.0h0M506.4 101.2h0M500.4 104.2h0M504.4 109.3h0M514.4 52.5h0M514.4 54.5h0M514.4 56.5h0M514.4 58.4h0M514.1 60.4h0M514.4 62.4h0M514.3 64.4h0M514.5 66.4h0M514.1 68.3h0M514.1 70.3h0M514.0 72.3h0M514.5 74.3h0M514.5 76.3h0M514.4 78.2h0M514.2 80.2h0M514.5 82.2h0M514.5 84.2h0M514.3 86.2h0M514.2 88.1h0M514.2 90.1h0M514.3 92.1h0M514.2 94.1h0M514.3 96.1h0M514.4 98.0h0M514.6 100.0h0M514.0 102.0h0M510.3 64.0h0M510.0 65.8h0M510.1 67.5h0M510.5 69.3h0M510.3 71.1h0M510.6 72.8h0M510.3 74.6h0M510.0 76.4h0M510.2 78.2h0M510.4 79.9h0M510.6 81.7h0M510.6 83.5h0M510.3 85.2h0M510.2 87.0h0M512.1 75.0h0M512.4 76.7h0M512.1 78.3h0M512.1 80.0h0M512.0 81.7h0M512.0 83.3h0M512.4 85.0h0M512.1 86.7h0M512.6 88.3h0M512.1 90.0h0M517.8 62.6h0M517.4 64.4h0M517.3 66.2h0M517.7 68.0h0M517.4 69.8h0M517.7 71.6h0M517.4 73.3h0M517.3 75.1h0M517.8 76.9h0M517.7 78.7h0M517.8 80.5h0M517.7 82.3h0M517.4 84.1h0M517.7 85.9h0M517.7 87.7h0M517.6 89.5h0M517.9 91.3h0M517.5 93.0h0M517.9 94.8h0M517.7 96.6h0M517.3 98.4h0M517.3 100.2h0M517.7 102.0h0M519.8 66.0h0M519.3 67.6h0M519.5 69.1h0M519.7 70.7h0M519.4 72.2h0M519.8 73.8h0M519.6 75.3h0M519.3 76.9h0M519.5 78.4h0M519.6 80.0h0M515.9 78.0h0M516.0 79.6h0M515.7 81.2h0M516.1 82.8h0M515.8 84.4h0M516.0 86.0h0M516.0 87.6h0M515.9 89.2h0M515.8 90.8h0M516.1 92.4h0M516.2 94.0h0M516.1 95.6h0M515.9 97.2h0M515.8 98.8h0M515.6 100.4h0M516.2 102.0h0M522.1 66.1h0M522.1 70.6h0M520.6 76.6h0M509.7 89.5h0M519.6 100.5h0M521.6 101.2h0M523.3 100.5h0M525.2 84.8h0M525.3 86.3h0M525.0 87.9h0M525.2 89.5h0M525.4 91.0h0M525.3 92.5h0M525.2 94.1h0M525.0 95.7h0M525.1 97.2h0M525.3 98.8h0M525.0 100.3h0M525.2 101.9h0M525.2 103.4h0M526.2 105.6h0M528.4 107.8h0M529.5 111.0h0M530.8 113.0h0M533.6 115.3h0M535.0 82.6h0M532.2 93.0h0M532.2 95.2h0M532.2 98.0h0M536.0 94.6h0M537.7 100.7h0M534.4 105.6h0M536.0 111.0h0M537.6 112.3h0M539.6 115.3h0M540.6 117.3h0M321.0 98.2h0M323.1 103.2h0M325.1 104.2h0M327.1 106.2h0M331.1 102.2h0M322.0 109.3h0M323.1 113.3h0M328.1 111.3h0M333.1 108.3h0M334.1 112.3h0M339.2 114.3h0M329.1 118.3h0M333.1 119.3h0M321.0 125.4h0M330.1 124.4h0M333.1 126.4h0M340.2 125.4h0M343.2 121.3h0M344.2 109.3h0M346.2 106.2h0M347.2 113.3h0M349.2 114.3h0M352.2 105.2h0M354.2 108.3h0M357.3 112.3h0M354.2 116.3h0M349.2 120.3h0M346.2 126.4h0M352.2 126.4h0M357.3 123.3h0M362.3 114.3h0M364.3 112.3h0M367.3 115.3h0M365.3 118.3h0M362.3 124.4h0M363.3 126.4h0M368.3 124.4h0M369.3 103.2h0M374.4 107.2h0M378.4 109.3h0M374.4 115.3h0M378.4 118.3h0M381.4 119.3h0M382.4 113.3h0M383.4 104.2h0M387.4 107.2h0M390.5 111.3h0M386.4 114.3h0M384.4 125.4h0M388.4 122.3h0M391.5 123.3h0M394.5 116.3h0M396.5 114.3h0M396.5 123.3h0M398.5 126.4h0M404.5 116.3h0M405.5 125.4h0M412.6 101.2h0M414.6 124.4h0M415.6 126.4h0M417.6 107.2h0M420.6 103.2h0M418.6 111.3h0M421.6 113.3h0M423.7 99.2h0M422.7 120.3h0M419.6 122.3h0M397.0 115.3h0M396.0 121.3h0M398.0 126.4h0M403.1 117.3h0M404.1 122.3h0M404.1 127.4h0M412.1 101.2h0M414.1 109.3h0M416.1 112.3h0M419.2 103.2h0M420.2 108.3h0M420.2 113.3h0M423.2 99.2h0M426.2 109.3h0M426.2 115.3h0M428.2 99.2h0M433.2 96.2h0M414.1 124.4h0M416.1 122.3h0M419.2 120.3h0M420.2 126.4h0M423.2 124.4h0M426.2 120.3h0M427.2 126.4h0M433.2 118.3h0M435.2 126.4h0M438.3 126.4h0M443.3 126.4h0M446.3 127.4h0M456.4 121.3h0M459.4 124.4h0M460.4 127.4h0M468.4 125.4h0M458.4 107.2h0M461.4 109.3h0M471.5 118.3h0M475.5 127.4h0M479.5 114.3h0M482.5 119.3h0M484.5 126.4h0M489.6 109.3h0M492.6 108.3h0M491.6 119.3h0M493.6 120.3h0M490.6 125.4h0M498.6 119.3h0M499.6 124.4h0M502.7 126.4h0M500.6 103.2h0M506.4 101.2h0M500.4 104.2h0M504.4 109.3h0M505.4 118.3h0M507.4 114.3h0M509.4 115.3h0M508.4 119.3h0M510.4 125.4h0M512.4 126.4h0M513.4 118.3h0M518.5 123.3h0M519.5 126.4h0M521.5 126.4h0M527.5 123.3h0M529.5 126.4h0M534.6 124.4h0M534.6 118.3h0" stroke="#4472c4" stroke-width="4.2" stroke-linecap="round" fill="none"/>
<line x1="30.4" x2="269.0" y1="168.4" y2="168.4" stroke="#bcbcbc" stroke-width="1.0"/>
<line x1="30.4" x2="269.0" y1="184.2" y2="184.2" stroke="#d8d8d8" stroke-width="0.8"/>
<line x1="30.4" x2="269.0" y1="199.9" y2="199.9" stroke="#d8d8d8" stroke-width="0.8"/>
<line x1="30.4" x2="269.0" y1="215.6" y2="215.6" stroke="#d8d8d8" stroke-width="0.8"/>
<line x1="30.4" x2="269.0" y1="231.3" y2="231.3" stroke="#d8d8d8" stroke-width="0.8"/>
<line x1="30.4" x2="269.0" y1="247.1" y2="247.1" stroke="#d8d8d8" stroke-width="0.8"/>
<line x1="30.4" x2="269.0" y1="262.8" y2="262.8" stroke="#d8d8d8" stroke-width="0.8"/>
<line x1="30.4" x2="269.0" y1="278.5" y2="278.5" stroke="#d8d8d8" stroke-width="0.8"/>
<line x1="30.4" x2="269.0" y1="294.2" y2="294.2" stroke="#e2e2e2" stroke-width="0.8"/>
<line x1="30.4" x2="30.4" y1="168.4" y2="294.2" stroke="#cfcfcf" stroke-width="0.8"/>
<line x1="74.5" x2="74.5" y1="168.4" y2="294.2" stroke="#dedede" stroke-width="0.8"/>
<line x1="118.5" x2="118.5" y1="168.4" y2="294.2" stroke="#dedede" stroke-width="0.8"/>
<line x1="162.4" x2="162.4" y1="168.4" y2="294.2" stroke="#dedede" stroke-width="0.8"/>
<line x1="206.4" x2="206.4" y1="168.4" y2="294.2" stroke="#dedede" stroke-width="0.8"/>
<line x1="250.4" x2="250.4" y1="168.4" y2="294.2" stroke="#dedede" stroke-width="0.8"/>
<text class="t" x="23.5" y="170.8" text-anchor="end" style="font-size:6.6px">-10</text>
<text class="t" x="23.5" y="186.5" text-anchor="end" style="font-size:6.6px">-20</text>
<text class="t" x="23.5" y="202.2" text-anchor="end" style="font-size:6.6px">-30</text>
<text class="t" x="23.5" y="217.9" text-anchor="end" style="font-size:6.6px">-40</text>
<text class="t" x="23.5" y="233.6" text-anchor="end" style="font-size:6.6px">-50</text>
<text class="t" x="23.5" y="249.4" text-anchor="end" style="font-size:6.6px">-60</text>
<text class="t" x="23.5" y="265.1" text-anchor="end" style="font-size:6.6px">-70</text>
<text class="t" x="23.5" y="280.8" text-anchor="end" style="font-size:6.6px">-80</text>
<text class="t" x="23.5" y="296.5" text-anchor="end" style="font-size:6.6px">-90</text>
<text class="t" x="29.4" y="180.3" text-anchor="middle" style="font-size:6.6px">0</text>
<text class="t" x="73.5" y="180.3" text-anchor="middle" style="font-size:6.6px">500</text>
<text class="t" x="117.5" y="180.3" text-anchor="middle" style="font-size:6.6px">1000</text>
<text class="t" x="161.4" y="180.3" text-anchor="middle" style="font-size:6.6px">1500</text>
<text class="t" x="205.4" y="180.3" text-anchor="middle" style="font-size:6.6px">2000</text>
<text class="t" x="249.4" y="180.3" text-anchor="middle" style="font-size:6.6px">2500</text>
<text class="t" x="8.1" y="230.4" text-anchor="middle" transform="rotate(-90 8.1 230.4)" style="font-size:7.4px" textLength="35.8" lengthAdjust="spacingAndGlyphs">RSSI(dbm)</text>
<text class="t" x="149.7" y="303.9" text-anchor="middle" style="font-size:7.4px" textLength="47.8" lengthAdjust="spacingAndGlyphs">Time-Stamp(s)</text>
<text class="cap" x="135.3" y="322.8" text-anchor="middle"><tspan class="pr">(</tspan>c<tspan class="pr">)</tspan></text>
<path d="M32.0 210.7h0M32.0 215.1h0M32.0 220.2h0M32.0 225.2h0M32.4 228.0h0M32.3 229.5h0M31.8 231.0h0M31.5 232.6h0M31.8 234.1h0M31.9 235.6h0M32.1 237.1h0M32.3 238.6h0M32.4 240.2h0M31.5 241.7h0M32.3 243.2h0M32.3 244.7h0M32.4 246.2h0M32.1 247.8h0M31.8 249.3h0M32.4 250.8h0M32.3 252.3h0M32.2 253.8h0M32.4 255.4h0M31.8 256.9h0M31.6 258.4h0M32.1 259.9h0M32.3 261.4h0M31.7 263.0h0M32.3 264.5h0M32.4 266.0h0M32.0 266.0h0M32.7 267.5h0M33.0 269.1h0M33.1 270.6h0M33.1 272.1h0M33.5 273.7h0M34.2 275.2h0M34.6 276.7h0M34.5 278.2h0M34.4 279.8h0M35.4 281.3h0M35.7 282.8h0M35.4 284.4h0M36.0 285.9h0M36.6 287.4h0M36.9 289.0h0M36.8 290.5h0M35.5 268.0h0M35.8 269.5h0M35.7 271.0h0M35.9 272.5h0M36.1 274.0h0M36.9 275.5h0M36.8 277.0h0M37.2 278.5h0M37.3 280.0h0M37.6 281.5h0M37.5 283.0h0M37.6 284.5h0M38.8 286.0h0M38.4 287.5h0M38.4 289.0h0M39.1 290.5h0M39.8 262.0h0M39.3 263.5h0M39.9 265.1h0M39.8 266.6h0M40.2 268.1h0M39.8 269.6h0M40.0 271.2h0M41.1 272.7h0M41.1 274.2h0M40.9 275.7h0M41.1 277.3h0M41.0 278.8h0M41.7 280.3h0M41.5 281.8h0M42.2 283.4h0M42.1 284.9h0M42.3 286.4h0M42.6 287.9h0M42.1 289.5h0M42.0 291.0h0M42.1 257.4h0M42.2 258.9h0M42.2 260.5h0M42.3 262.0h0M42.9 263.5h0M43.4 265.0h0M43.1 266.6h0M43.7 268.1h0M43.8 269.6h0M43.0 271.1h0M43.7 272.7h0M43.6 274.2h0M43.4 275.7h0M44.4 277.3h0M43.8 278.8h0M44.2 280.3h0M44.4 281.8h0M44.9 283.4h0M44.7 284.9h0M44.5 286.4h0M44.7 287.9h0M44.5 289.5h0M45.5 291.0h0M45.7 219.1h0M45.7 222.2h0M45.7 226.2h0M45.7 232.2h0M45.7 237.3h0M47.0 241.0h0M46.3 242.5h0M46.1 244.0h0M46.4 245.5h0M46.5 247.1h0M47.1 248.6h0M47.2 250.1h0M47.2 251.6h0M46.4 253.1h0M47.2 254.6h0M47.2 256.2h0M47.1 257.7h0M47.5 259.2h0M46.6 260.7h0M46.8 262.2h0M47.4 263.7h0M47.7 265.2h0M47.4 266.8h0M47.1 268.3h0M47.5 269.8h0M47.7 271.3h0M47.1 272.8h0M47.3 274.3h0M47.3 275.8h0M47.2 277.4h0M47.6 278.9h0M47.4 280.4h0M47.5 281.9h0M47.4 283.4h0M48.0 284.9h0M47.4 286.5h0M48.1 288.0h0M47.6 289.5h0M47.5 291.0h0M49.6 250.0h0M49.0 251.5h0M49.8 253.0h0M49.8 254.6h0M49.9 256.1h0M49.2 257.6h0M49.5 259.1h0M49.3 260.6h0M50.2 262.1h0M50.1 263.7h0M50.0 265.2h0M49.9 266.7h0M49.8 268.2h0M50.4 269.7h0M50.1 271.3h0M50.3 272.8h0M49.9 274.3h0M50.1 275.8h0M50.0 277.3h0M50.7 278.9h0M50.6 280.4h0M50.2 281.9h0M51.0 283.4h0M50.5 284.9h0M50.7 286.4h0M50.5 288.0h0M50.7 289.5h0M51.3 291.0h0M51.8 230.2h0M51.7 231.7h0M52.1 233.2h0M52.0 234.6h0M52.6 236.1h0M51.9 237.6h0M52.8 239.1h0M51.9 240.6h0M52.8 242.1h0M52.6 243.5h0M52.2 245.0h0M52.5 246.5h0M52.4 248.0h0M52.4 249.5h0M52.4 251.0h0M52.6 252.4h0M53.3 253.9h0M53.3 255.4h0M53.3 256.9h0M52.5 258.4h0M52.8 259.9h0M53.4 261.3h0M52.6 262.8h0M53.3 264.3h0M53.0 265.8h0M53.7 267.3h0M52.8 268.8h0M53.6 270.2h0M53.2 271.7h0M53.1 273.2h0M53.0 274.7h0M53.8 276.2h0M53.6 277.7h0M53.3 279.1h0M53.6 280.6h0M54.1 282.1h0M53.5 283.6h0M53.9 285.1h0M53.5 286.6h0M53.6 288.0h0M54.2 289.5h0M54.2 291.0h0M54.5 262.0h0M54.5 263.5h0M54.6 265.1h0M55.3 266.6h0M55.3 268.1h0M55.2 269.6h0M55.2 271.2h0M55.7 272.7h0M55.9 274.2h0M56.2 275.7h0M56.0 277.3h0M55.8 278.8h0M55.8 280.3h0M56.5 281.8h0M56.3 283.4h0M56.8 284.9h0M56.2 286.4h0M57.1 287.9h0M56.7 289.5h0M57.3 291.0h0M58.0 268.0h0M57.7 269.5h0M57.4 271.1h0M58.4 272.6h0M58.1 274.1h0M58.6 275.7h0M58.1 277.2h0M58.2 278.7h0M58.9 280.3h0M58.6 281.8h0M58.5 283.3h0M58.9 284.9h0M59.2 286.4h0M58.8 287.9h0M59.4 289.5h0M59.4 291.0h0M60.0 237.3h0M59.7 238.8h0M60.3 240.3h0M60.5 241.8h0M60.6 243.3h0M60.1 244.8h0M60.5 246.2h0M60.3 247.7h0M60.7 249.2h0M60.1 250.7h0M60.9 252.2h0M61.1 253.7h0M60.7 255.2h0M60.7 256.7h0M60.8 258.2h0M60.9 259.7h0M60.4 261.2h0M61.4 262.7h0M60.7 264.1h0M60.7 265.6h0M60.7 267.1h0M60.9 268.6h0M61.5 270.1h0M60.8 271.6h0M60.9 273.1h0M61.6 274.6h0M61.1 276.1h0M61.0 277.6h0M61.7 279.1h0M61.7 280.6h0M61.7 282.1h0M61.9 283.5h0M61.4 285.0h0M62.2 286.5h0M62.1 288.0h0M61.5 289.5h0M61.6 291.0h0M62.8 266.0h0M62.9 267.5h0M62.8 268.9h0M62.8 270.4h0M63.2 271.9h0M63.1 273.4h0M63.7 274.8h0M64.1 276.3h0M63.5 277.8h0M64.0 279.2h0M64.3 280.7h0M63.9 282.2h0M64.7 283.6h0M64.9 285.1h0M64.5 286.6h0M64.7 288.1h0M65.2 289.5h0M65.0 291.0h0M66.6 194.0h0M66.6 209.1h0M66.6 220.2h0M66.6 227.2h0M66.7 232.0h0M67.3 233.5h0M67.2 235.0h0M66.8 236.5h0M66.7 238.0h0M66.9 239.5h0M67.0 241.0h0M67.6 242.5h0M67.5 244.0h0M67.6 245.5h0M67.6 247.0h0M67.6 248.5h0M66.9 250.0h0M67.4 251.5h0M67.9 253.0h0M67.9 254.5h0M67.3 256.0h0M67.5 257.5h0M67.7 259.0h0M67.5 260.5h0M67.7 262.0h0M67.3 263.5h0M67.7 265.0h0M67.8 266.5h0M67.4 268.0h0M67.6 269.5h0M68.4 271.0h0M68.3 272.5h0M68.5 274.0h0M68.2 275.5h0M68.5 277.0h0M68.6 278.5h0M68.6 280.0h0M67.8 281.5h0M68.5 283.0h0M68.1 284.5h0M68.6 286.0h0M68.2 287.5h0M68.5 289.0h0M65.6 262.0h0M65.4 263.5h0M65.1 265.1h0M65.5 266.6h0M65.5 268.1h0M66.1 269.6h0M65.6 271.2h0M65.7 272.7h0M66.1 274.2h0M65.7 275.7h0M66.2 277.3h0M66.7 278.8h0M66.4 280.3h0M66.2 281.8h0M66.5 283.4h0M66.7 284.9h0M66.4 286.4h0M66.4 287.9h0M66.5 289.5h0M66.8 291.0h0M74.5 280.0h0M74.5 281.6h0M74.6 283.1h0M74.6 284.7h0M75.2 286.3h0M75.7 287.9h0M75.6 289.4h0M75.7 291.0h0M83.1 212.1h0M83.1 216.1h0M83.1 220.2h0M83.1 225.2h0M83.1 232.2h0M83.1 238.3h0M79.5 243.0h0M79.0 244.5h0M79.5 246.0h0M79.3 247.5h0M79.3 249.0h0M79.4 250.5h0M79.3 252.0h0M79.1 253.5h0M79.0 255.0h0M79.0 256.5h0M79.3 258.0h0M79.2 259.5h0M79.4 261.0h0M78.8 262.5h0M79.2 264.0h0M79.7 265.5h0M79.0 267.0h0M79.4 268.5h0M79.3 270.0h0M79.1 271.5h0M79.8 273.0h0M79.1 274.5h0M79.6 276.0h0M79.0 277.5h0M78.9 279.0h0M79.7 280.5h0M79.2 282.0h0M78.9 283.5h0M79.2 285.0h0M79.2 286.5h0M79.5 288.0h0M78.9 289.5h0M79.0 291.0h0M81.7 242.0h0M81.4 243.5h0M80.9 245.0h0M81.0 246.5h0M81.1 247.9h0M81.4 249.4h0M81.3 250.9h0M81.5 252.4h0M81.5 253.9h0M81.2 255.4h0M81.4 256.8h0M81.4 258.3h0M81.5 259.8h0M81.2 261.3h0M81.5 262.8h0M81.4 264.3h0M81.6 265.8h0M80.8 267.2h0M81.6 268.7h0M80.7 270.2h0M81.5 271.7h0M81.3 273.2h0M81.2 274.7h0M81.7 276.2h0M81.3 277.6h0M81.1 279.1h0M81.5 280.6h0M81.6 282.1h0M81.3 283.6h0M81.1 285.1h0M81.2 286.5h0M81.2 288.0h0M81.4 289.5h0M81.0 291.0h0M83.0 241.0h0M83.2 242.5h0M83.0 244.0h0M82.9 245.5h0M83.4 247.1h0M83.4 248.6h0M83.1 250.1h0M83.0 251.6h0M82.8 253.1h0M82.9 254.6h0M82.7 256.2h0M83.2 257.7h0M83.2 259.2h0M82.7 260.7h0M83.5 262.2h0M82.9 263.7h0M83.4 265.2h0M83.4 266.8h0M83.6 268.3h0M82.8 269.8h0M83.0 271.3h0M83.5 272.8h0M82.6 274.3h0M82.6 275.8h0M83.2 277.4h0M83.1 278.9h0M83.5 280.4h0M83.4 281.9h0M83.1 283.4h0M83.6 284.9h0M83.1 286.5h0M83.1 288.0h0M83.3 289.5h0M83.0 291.0h0M85.4 243.0h0M85.6 244.5h0M85.4 246.0h0M85.9 247.5h0M85.7 249.0h0M85.5 250.5h0M85.1 252.0h0M85.4 253.5h0M85.4 255.0h0M85.6 256.5h0M85.6 258.0h0M85.9 259.5h0M86.0 261.0h0M85.5 262.5h0M85.4 264.0h0M85.6 265.5h0M86.0 267.0h0M85.3 268.5h0M85.5 270.0h0M85.8 271.5h0M85.2 273.0h0M85.3 274.5h0M86.0 276.0h0M85.8 277.5h0M85.5 279.0h0M85.1 280.5h0M85.9 282.0h0M85.7 283.5h0M85.8 285.0h0M86.0 286.5h0M85.9 288.0h0M85.4 289.5h0M85.2 291.0h0M87.8 244.0h0M88.0 245.5h0M88.0 247.0h0M87.7 248.5h0M87.7 250.1h0M88.1 251.6h0M88.1 253.1h0M87.9 254.6h0M88.5 256.1h0M88.1 257.6h0M87.5 259.2h0M87.9 260.7h0M88.3 262.2h0M87.8 263.7h0M88.2 265.2h0M87.5 266.7h0M87.8 268.3h0M88.3 269.8h0M88.1 271.3h0M88.2 272.8h0M87.7 274.3h0M88.0 275.8h0M88.1 277.4h0M87.8 278.9h0M88.1 280.4h0M88.0 281.9h0M88.5 283.4h0M88.1 284.9h0M87.9 286.5h0M87.6 288.0h0M87.7 289.5h0M88.3 291.0h0M93.3 246.0h0M93.3 247.5h0M93.4 249.0h0M93.7 250.5h0M94.0 252.0h0M93.8 253.5h0M94.0 255.0h0M93.3 256.5h0M93.2 258.0h0M94.0 259.5h0M93.5 261.0h0M93.9 262.5h0M93.6 264.0h0M93.4 265.5h0M93.5 267.0h0M93.3 268.5h0M94.1 270.0h0M93.8 271.5h0M93.5 273.0h0M93.6 274.5h0M93.6 276.0h0M93.3 277.5h0M94.1 279.0h0M93.8 280.5h0M94.2 282.0h0M93.6 283.5h0M93.8 285.0h0M93.4 286.5h0M93.2 288.0h0M94.1 289.5h0M94.1 291.0h0M91.4 221.2h0M91.4 225.2h0M91.4 228.2h0M91.4 232.2h0M91.4 235.2h0M91.4 238.3h0M91.2 241.0h0M91.8 242.5h0M91.7 244.0h0M91.2 245.5h0M91.5 247.1h0M91.9 248.6h0M91.4 250.1h0M91.8 251.6h0M91.1 253.1h0M91.3 254.6h0M91.6 256.2h0M91.1 257.7h0M91.2 259.2h0M91.8 260.7h0M91.4 262.2h0M91.7 263.7h0M91.1 265.2h0M91.1 266.8h0M91.3 268.3h0M91.1 269.8h0M91.9 271.3h0M91.2 272.8h0M91.5 274.3h0M91.0 275.8h0M91.4 277.4h0M91.3 278.9h0M91.3 280.4h0M91.0 281.9h0M91.0 283.4h0M91.7 284.9h0M91.3 286.5h0M91.1 288.0h0M91.1 289.5h0M91.2 291.0h0M94.7 262.0h0M94.5 263.5h0M95.2 265.1h0M94.8 266.6h0M94.7 268.1h0M95.2 269.6h0M94.6 271.2h0M94.8 272.7h0M95.3 274.2h0M94.6 275.7h0M94.9 277.3h0M95.3 278.8h0M95.3 280.3h0M94.7 281.8h0M94.9 283.4h0M95.2 284.9h0M94.9 286.4h0M95.5 287.9h0M94.7 289.5h0M95.5 291.0h0M100.7 254.0h0M100.4 255.5h0M100.7 257.0h0M100.3 258.4h0M100.9 259.9h0M100.5 261.4h0M101.1 262.9h0M100.8 264.4h0M100.6 265.8h0M100.4 267.3h0M100.8 268.8h0M100.4 270.3h0M101.1 271.8h0M100.3 273.2h0M100.7 274.7h0M100.7 276.2h0M100.5 277.7h0M101.0 279.2h0M100.6 280.6h0M100.9 282.1h0M100.8 283.6h0M100.5 285.1h0M100.6 286.6h0M100.3 288.0h0M100.4 289.5h0M101.1 291.0h0M108.5 199.0h0M108.5 201.8h0M108.5 208.0h0M108.5 216.3h0M108.5 224.6h0M108.5 231.2h0M108.3 235.0h0M108.7 236.5h0M108.1 238.0h0M108.6 239.5h0M108.4 241.1h0M108.5 242.6h0M108.3 244.1h0M108.1 245.6h0M108.3 247.1h0M108.2 248.6h0M108.1 250.1h0M108.7 251.6h0M108.3 253.2h0M108.4 254.7h0M108.9 256.2h0M108.8 257.7h0M108.9 259.2h0M108.9 260.7h0M108.1 262.2h0M108.3 263.8h0M108.0 265.3h0M108.7 266.8h0M108.7 268.3h0M108.4 269.8h0M108.4 271.3h0M108.7 272.8h0M108.7 274.4h0M108.2 275.9h0M108.8 277.4h0M108.4 278.9h0M108.6 280.4h0M108.2 281.9h0M108.1 283.4h0M108.9 284.9h0M108.7 286.5h0M108.7 288.0h0M108.0 289.5h0M108.0 291.0h0M107.3 240.0h0M107.3 241.5h0M107.4 243.0h0M107.5 244.5h0M107.1 246.1h0M107.4 247.6h0M107.7 249.1h0M107.3 250.6h0M107.9 252.1h0M107.7 253.6h0M107.8 255.2h0M107.4 256.7h0M107.5 258.2h0M107.8 259.7h0M107.4 261.2h0M107.1 262.7h0M107.9 264.2h0M107.9 265.8h0M107.4 267.3h0M107.1 268.8h0M108.0 270.3h0M107.7 271.8h0M107.1 273.3h0M107.3 274.8h0M107.2 276.4h0M107.9 277.9h0M107.3 279.4h0M108.0 280.9h0M107.8 282.4h0M107.2 283.9h0M107.8 285.5h0M107.5 287.0h0M107.8 288.5h0M107.9 290.0h0M110.8 236.0h0M110.6 237.5h0M111.4 239.0h0M110.9 240.5h0M111.4 241.9h0M111.2 243.4h0M111.2 244.9h0M111.3 246.4h0M111.1 247.9h0M111.0 249.4h0M110.6 250.9h0M111.2 252.4h0M110.9 253.8h0M111.0 255.3h0M111.4 256.8h0M110.6 258.3h0M111.3 259.8h0M110.5 261.3h0M111.2 262.8h0M111.3 264.2h0M110.8 265.7h0M111.0 267.2h0M111.5 268.7h0M111.1 270.2h0M111.0 271.7h0M110.7 273.2h0M110.6 274.6h0M110.9 276.1h0M110.9 277.6h0M110.7 279.1h0M110.8 280.6h0M110.6 282.1h0M111.2 283.6h0M111.2 285.1h0M110.7 286.5h0M110.7 288.0h0M111.0 289.5h0M110.9 291.0h0M113.7 233.0h0M113.2 234.5h0M113.1 236.0h0M113.7 237.5h0M112.9 238.9h0M113.4 240.4h0M113.1 241.9h0M113.6 243.4h0M113.3 244.9h0M113.6 246.4h0M113.0 247.9h0M113.5 249.4h0M113.4 250.8h0M113.3 252.3h0M113.6 253.8h0M113.6 255.3h0M112.9 256.8h0M113.1 258.3h0M113.2 259.8h0M113.0 261.3h0M112.9 262.7h0M113.1 264.2h0M113.0 265.7h0M113.5 267.2h0M113.2 268.7h0M112.9 270.2h0M113.1 271.7h0M113.3 273.2h0M113.2 274.6h0M113.0 276.1h0M112.9 277.6h0M112.8 279.1h0M113.8 280.6h0M113.6 282.1h0M112.9 283.6h0M113.5 285.1h0M113.8 286.5h0M113.4 288.0h0M112.9 289.5h0M113.3 291.0h0M115.4 238.0h0M115.2 239.5h0M115.5 241.0h0M115.0 242.5h0M115.9 244.0h0M115.6 245.5h0M115.6 247.0h0M115.9 248.5h0M115.7 250.0h0M115.3 251.5h0M115.2 253.0h0M115.1 254.5h0M115.0 256.0h0M115.8 257.5h0M115.8 259.0h0M115.3 260.5h0M115.2 262.0h0M115.6 263.5h0M115.8 265.0h0M115.9 266.5h0M115.2 268.0h0M115.8 269.5h0M115.8 271.0h0M115.7 272.5h0M115.3 274.0h0M115.2 275.5h0M115.8 277.0h0M115.3 278.5h0M115.4 280.0h0M115.6 281.5h0M115.4 283.0h0M115.8 284.5h0M115.2 286.0h0M115.0 287.5h0M115.6 289.0h0M117.4 238.0h0M117.6 239.5h0M117.5 241.0h0M117.7 242.5h0M117.7 244.1h0M117.3 245.6h0M117.3 247.1h0M117.0 248.6h0M117.1 250.1h0M117.4 251.6h0M116.9 253.2h0M117.5 254.7h0M117.0 256.2h0M117.2 257.7h0M117.8 259.2h0M116.9 260.7h0M116.8 262.2h0M117.2 263.8h0M117.0 265.3h0M117.5 266.8h0M116.8 268.3h0M117.6 269.8h0M117.7 271.3h0M117.6 272.8h0M117.2 274.4h0M117.1 275.9h0M117.5 277.4h0M117.3 278.9h0M117.2 280.4h0M117.1 281.9h0M117.2 283.5h0M117.5 285.0h0M117.6 286.5h0M117.7 288.0h0M119.0 244.0h0M119.1 245.5h0M119.2 247.1h0M119.4 248.6h0M119.1 250.2h0M119.0 251.7h0M118.9 253.2h0M119.1 254.8h0M119.3 256.3h0M119.8 257.8h0M119.7 259.4h0M119.7 260.9h0M119.8 262.5h0M119.8 264.0h0M118.4 264.0h0M118.6 265.5h0M117.9 267.0h0M118.5 268.5h0M118.4 270.0h0M118.1 271.5h0M118.4 273.0h0M118.8 274.5h0M118.3 276.0h0M118.4 277.5h0M118.1 279.0h0M118.1 280.5h0M118.7 282.0h0M117.8 283.5h0M118.0 285.0h0M118.5 286.5h0M118.2 288.0h0M127.8 230.0h0M128.4 231.5h0M128.1 233.0h0M128.3 234.5h0M128.1 236.0h0M128.2 237.4h0M128.3 238.9h0M128.1 240.4h0M127.8 241.9h0M127.9 243.4h0M128.6 244.9h0M128.2 246.4h0M127.8 247.9h0M128.6 249.3h0M128.0 250.8h0M127.8 252.3h0M128.2 253.8h0M128.0 255.3h0M128.2 256.8h0M128.3 258.3h0M127.9 259.8h0M128.3 261.2h0M127.8 262.7h0M128.2 264.2h0M128.3 265.7h0M127.8 267.2h0M128.1 268.7h0M127.8 270.2h0M128.1 271.7h0M128.6 273.1h0M128.3 274.6h0M128.4 276.1h0M128.5 277.6h0M127.8 279.1h0M128.7 280.6h0M128.4 282.1h0M127.8 283.6h0M128.5 285.0h0M128.1 286.5h0M127.9 288.0h0M128.7 289.5h0M128.3 291.0h0M127.6 236.0h0M126.9 237.5h0M127.6 239.1h0M126.9 240.6h0M127.0 242.1h0M127.2 243.6h0M126.8 245.2h0M127.4 246.7h0M127.0 248.2h0M127.1 249.8h0M127.5 251.3h0M127.2 252.8h0M127.7 254.4h0M127.4 255.9h0M127.7 257.4h0M127.4 258.9h0M127.7 260.5h0M127.7 262.0h0M125.7 262.0h0M126.2 263.5h0M125.8 264.9h0M126.3 266.4h0M126.2 267.8h0M126.3 269.3h0M125.6 270.7h0M125.9 272.2h0M126.2 273.6h0M126.4 275.1h0M126.2 276.5h0M125.5 278.0h0M127.4 278.0h0M126.9 279.4h0M127.3 280.9h0M127.6 282.3h0M126.9 283.7h0M127.7 285.1h0M127.5 286.6h0M127.1 288.0h0M133.1 194.9h0M133.1 199.3h0M133.1 209.0h0M133.1 220.0h0M133.1 226.8h0M133.1 232.0h0M133.1 236.5h0M133.0 240.0h0M133.2 241.5h0M133.6 243.0h0M133.4 244.5h0M132.9 246.0h0M132.8 247.5h0M132.9 249.0h0M133.6 250.5h0M133.0 252.0h0M133.4 253.5h0M133.1 255.0h0M133.5 256.5h0M133.2 258.0h0M132.9 259.5h0M133.7 261.0h0M133.3 262.5h0M133.5 264.0h0M133.6 265.5h0M133.7 267.0h0M132.8 268.5h0M133.1 270.0h0M133.0 271.5h0M133.3 273.0h0M133.7 274.5h0M133.6 276.0h0M132.8 277.5h0M133.0 279.0h0M133.6 280.5h0M133.5 282.0h0M133.2 283.5h0M133.3 285.0h0M133.0 286.5h0M133.6 288.0h0M133.2 289.5h0M133.7 291.0h0M130.6 240.0h0M130.1 241.5h0M130.3 243.0h0M130.2 244.5h0M130.9 246.1h0M130.6 247.6h0M130.0 249.1h0M130.2 250.6h0M130.4 252.1h0M130.5 253.6h0M130.6 255.2h0M130.4 256.7h0M130.4 258.2h0M130.0 259.7h0M130.6 261.2h0M130.3 262.7h0M130.0 264.2h0M130.5 265.8h0M131.0 267.3h0M130.0 268.8h0M130.1 270.3h0M130.7 271.8h0M130.3 273.3h0M130.3 274.8h0M130.5 276.4h0M130.3 277.9h0M130.6 279.4h0M130.5 280.9h0M131.0 282.4h0M131.0 283.9h0M130.0 285.5h0M130.6 287.0h0M130.8 288.5h0M130.9 290.0h0M136.3 243.0h0M136.1 244.5h0M136.1 246.0h0M135.9 247.5h0M135.8 249.1h0M136.3 250.6h0M136.4 252.1h0M136.4 253.6h0M136.2 255.1h0M135.8 256.6h0M136.3 258.2h0M136.2 259.7h0M136.0 261.2h0M136.1 262.7h0M135.9 264.2h0M136.1 265.7h0M135.9 267.3h0M135.6 268.8h0M135.8 270.3h0M135.8 271.8h0M136.5 273.3h0M136.0 274.8h0M135.9 276.4h0M135.7 277.9h0M135.7 279.4h0M135.8 280.9h0M135.6 282.4h0M135.5 283.9h0M136.4 285.5h0M136.0 287.0h0M135.9 288.5h0M136.1 290.0h0M138.3 243.0h0M138.2 244.5h0M138.1 246.0h0M138.3 247.5h0M138.3 249.1h0M138.7 250.6h0M138.6 252.1h0M138.9 253.6h0M138.3 255.1h0M138.9 256.6h0M138.6 258.2h0M138.1 259.7h0M138.2 261.2h0M138.6 262.7h0M139.0 264.2h0M138.4 265.7h0M138.8 267.3h0M138.4 268.8h0M138.9 270.3h0M138.1 271.8h0M138.5 273.3h0M138.9 274.8h0M138.3 276.4h0M138.3 277.9h0M138.0 279.4h0M138.2 280.9h0M138.3 282.4h0M138.7 283.9h0M138.2 285.5h0M138.4 287.0h0M138.2 288.5h0M138.6 290.0h0M141.4 243.0h0M141.1 244.5h0M140.7 246.0h0M141.2 247.5h0M141.5 249.1h0M141.1 250.6h0M140.6 252.1h0M141.3 253.6h0M141.4 255.1h0M140.8 256.6h0M140.6 258.2h0M140.7 259.7h0M141.0 261.2h0M141.4 262.7h0M141.1 264.2h0M141.4 265.7h0M140.7 267.3h0M140.8 268.8h0M141.2 270.3h0M141.1 271.8h0M140.9 273.3h0M141.2 274.8h0M140.8 276.4h0M140.6 277.9h0M140.9 279.4h0M140.5 280.9h0M141.1 282.4h0M140.8 283.9h0M141.0 285.5h0M141.1 287.0h0M140.8 288.5h0M141.0 290.0h0M143.5 197.0h0M144.0 208.0h0M143.5 211.4h0M140.7 212.4h0M141.8 216.9h0M139.6 222.4h0M142.9 221.3h0M140.7 225.6h0M142.9 230.0h0M140.7 236.6h0M142.9 237.7h0M142.8 242.0h0M143.7 243.5h0M143.4 245.0h0M143.8 246.5h0M142.9 248.0h0M143.4 249.5h0M143.5 251.0h0M143.1 252.5h0M142.9 254.0h0M143.0 255.5h0M142.9 257.0h0M143.6 258.5h0M142.9 260.0h0M143.6 261.5h0M143.2 263.0h0M143.3 264.5h0M143.4 266.0h0M143.4 267.5h0M143.5 269.0h0M143.4 270.5h0M143.1 272.0h0M143.5 273.5h0M143.1 275.0h0M143.5 276.5h0M143.6 278.0h0M143.6 279.5h0M143.1 281.0h0M143.6 282.5h0M143.8 284.0h0M143.3 285.5h0M143.1 287.0h0M143.3 288.5h0M143.7 290.0h0M144.6 246.0h0M144.5 247.5h0M145.0 249.0h0M145.2 250.5h0M145.3 252.0h0M144.9 253.5h0M145.5 255.0h0M144.7 256.5h0M145.3 258.0h0M144.6 259.5h0M144.5 261.0h0M144.6 262.5h0M144.6 264.0h0M145.0 265.5h0M145.1 267.0h0M144.7 268.5h0M145.4 270.0h0M144.9 271.5h0M144.6 273.0h0M144.7 274.5h0M145.2 276.0h0M145.4 277.5h0M144.7 279.0h0M144.5 280.5h0M145.3 282.0h0M144.7 283.5h0M145.5 285.0h0M145.0 286.5h0M145.1 288.0h0M147.2 264.0h0M147.7 265.5h0M147.4 266.9h0M147.2 268.4h0M147.8 269.8h0M147.0 271.3h0M147.6 272.7h0M147.0 274.2h0M147.5 275.6h0M147.3 277.1h0M147.8 278.5h0M147.0 280.0h0" stroke="#ed7d31" stroke-width="4.6" stroke-linecap="round" fill="none"/>
<line x1="317.6" x2="542.5" y1="172.6" y2="172.6" stroke="#bcbcbc" stroke-width="1.0"/>
<line x1="317.6" x2="542.5" y1="187.6" y2="187.6" stroke="#dadada" stroke-width="0.8"/>
<line x1="317.6" x2="542.5" y1="202.6" y2="202.6" stroke="#dadada" stroke-width="0.8"/>
<line x1="317.6" x2="542.5" y1="217.6" y2="217.6" stroke="#dadada" stroke-width="0.8"/>
<line x1="317.6" x2="542.5" y1="232.6" y2="232.6" stroke="#dadada" stroke-width="0.8"/>
<line x1="317.6" x2="542.5" y1="247.6" y2="247.6" stroke="#dadada" stroke-width="0.8"/>
<line x1="317.6" x2="542.5" y1="262.6" y2="262.6" stroke="#dadada" stroke-width="0.8"/>
<line x1="317.6" x2="542.5" y1="277.6" y2="277.6" stroke="#dadada" stroke-width="0.8"/>
<line x1="317.6" x2="542.5" y1="292.6" y2="292.6" stroke="#e2e2e2" stroke-width="0.8"/>
<line x1="317.6" x2="317.6" y1="172.6" y2="292.6" stroke="#cfcfcf" stroke-width="0.8"/>
<line x1="359.2" x2="359.2" y1="172.6" y2="292.6" stroke="#d0d0d0" stroke-width="0.8"/>
<line x1="400.9" x2="400.9" y1="172.6" y2="292.6" stroke="#d0d0d0" stroke-width="0.8"/>
<line x1="442.5" x2="442.5" y1="172.6" y2="292.6" stroke="#d0d0d0" stroke-width="0.8"/>
<line x1="484.1" x2="484.1" y1="172.6" y2="292.6" stroke="#d0d0d0" stroke-width="0.8"/>
<line x1="525.8" x2="525.8" y1="172.6" y2="292.6" stroke="#d0d0d0" stroke-width="0.8"/>
<text class="t" x="310.8" y="174.5" text-anchor="end" style="font-size:6.2px">-10</text>
<text class="t" x="310.8" y="189.5" text-anchor="end" style="font-size:6.2px">-20</text>
<text class="t" x="310.8" y="204.5" text-anchor="end" style="font-size:6.2px">-30</text>
<text class="t" x="310.8" y="219.5" text-anchor="end" style="font-size:6.2px">-40</text>
<text class="t" x="310.8" y="234.5" text-anchor="end" style="font-size:6.2px">-50</text>
<text class="t" x="310.8" y="249.5" text-anchor="end" style="font-size:6.2px">-60</text>
<text class="t" x="310.8" y="264.5" text-anchor="end" style="font-size:6.2px">-70</text>
<text class="t" x="310.8" y="279.5" text-anchor="end" style="font-size:6.2px">-80</text>
<text class="t" x="310.8" y="294.5" text-anchor="end" style="font-size:6.2px">-90</text>
<text class="t" x="316.4" y="183.8" text-anchor="middle" style="font-size:6.2px">0</text>
<text class="t" x="358.0" y="183.8" text-anchor="middle" style="font-size:6.2px">500</text>
<text class="t" x="399.7" y="183.8" text-anchor="middle" style="font-size:6.2px">1000</text>
<text class="t" x="441.3" y="183.8" text-anchor="middle" style="font-size:6.2px">1500</text>
<text class="t" x="482.9" y="183.8" text-anchor="middle" style="font-size:6.2px">2000</text>
<text class="t" x="524.5" y="183.8" text-anchor="middle" style="font-size:6.2px">2500</text>
<text class="t" x="297.8" y="232.2" text-anchor="middle" transform="rotate(-90 297.8 232.2)" style="font-size:7.4px" textLength="32" lengthAdjust="spacingAndGlyphs">RSSI(dbm)</text>
<text class="t" x="430.0" y="300.2" text-anchor="middle" style="font-size:7.4px" textLength="44.8" lengthAdjust="spacingAndGlyphs">Time-Stamp(s)</text>
<text class="cap" x="416.5" y="322.8" text-anchor="middle"><tspan class="pr">(</tspan>d<tspan class="pr">)</tspan></text>
<path d="M319.1 212.2h0M318.9 214.1h0M319.4 215.9h0M319.4 217.8h0M319.1 219.6h0M318.7 221.5h0M318.8 223.3h0M318.8 225.2h0M318.9 227.0h0M318.7 228.9h0M318.7 230.7h0M319.3 232.6h0M319.1 234.4h0M318.8 236.3h0M319.5 238.1h0M318.7 240.0h0M319.3 240.0h0M318.9 241.5h0M319.7 242.9h0M319.8 244.4h0M319.3 245.9h0M319.9 247.4h0M320.0 248.8h0M319.6 250.3h0M319.7 251.8h0M319.9 253.3h0M320.4 254.7h0M319.8 256.2h0M320.4 257.7h0M320.4 259.2h0M320.3 260.6h0M320.5 262.1h0M320.9 263.6h0M320.3 265.1h0M321.1 266.5h0M320.7 268.0h0M321.3 268.0h0M321.8 269.5h0M321.6 271.0h0M322.7 272.5h0M323.3 274.0h0M323.0 275.5h0M323.2 277.0h0M323.8 278.5h0M325.1 280.0h0M324.6 281.5h0M325.9 283.0h0M320.2 236.0h0M320.8 237.5h0M320.1 239.1h0M320.2 240.6h0M320.8 242.1h0M320.2 243.6h0M320.4 245.2h0M321.0 246.7h0M320.9 248.2h0M321.0 249.8h0M321.2 251.3h0M320.2 252.8h0M320.4 254.4h0M321.0 255.9h0M320.9 257.4h0M320.3 258.9h0M320.8 260.5h0M320.5 262.0h0M328.5 291.5h0M324.5 268.0h0M324.5 269.5h0M324.6 270.9h0M325.8 272.4h0M325.4 273.8h0M326.2 275.3h0M325.7 276.7h0M326.3 278.2h0M326.2 279.6h0M326.7 281.1h0M326.7 282.5h0M327.5 284.0h0M327.8 262.0h0M328.5 263.5h0M328.3 265.1h0M327.9 266.6h0M328.2 268.1h0M328.4 269.7h0M328.9 271.2h0M328.3 272.7h0M328.2 274.3h0M329.0 275.8h0M329.0 277.3h0M328.9 278.9h0M328.5 280.4h0M328.4 281.9h0M328.5 283.5h0M328.4 285.0h0M339.2 255.0h0M339.7 256.5h0M339.7 257.9h0M339.8 259.4h0M339.7 260.8h0M339.3 262.3h0M340.1 263.7h0M340.0 265.2h0M340.0 266.6h0M340.0 268.1h0M340.2 269.5h0M340.5 271.0h0M336.6 273.0h0M336.6 274.5h0M336.4 276.0h0M336.5 277.5h0M336.8 279.0h0M337.5 280.5h0M337.1 282.0h0M337.2 283.5h0M337.4 285.0h0M333.1 276.0h0M334.1 277.4h0M333.3 278.9h0M334.0 280.3h0M334.5 281.7h0M334.0 283.1h0M334.5 284.6h0M334.4 286.0h0M347.7 269.0h0M348.0 270.5h0M348.3 272.0h0M349.3 273.5h0M349.6 275.0h0M350.0 276.5h0M349.5 278.0h0M350.4 279.5h0M350.4 281.0h0M351.0 282.5h0M351.2 284.0h0M351.3 285.5h0M343.5 276.0h0M343.0 277.4h0M344.2 278.9h0M344.9 280.3h0M345.0 281.7h0M345.6 283.1h0M346.5 284.6h0M346.2 286.0h0M329.4 259.0h0M329.6 260.5h0M329.3 262.0h0M329.7 263.5h0M329.4 265.0h0M329.6 266.5h0M329.7 268.0h0M329.8 269.5h0M329.5 271.0h0M329.9 272.5h0M329.8 274.0h0M329.6 275.5h0M330.0 277.0h0M329.7 278.5h0M330.4 280.0h0M330.8 280.0h0M331.4 281.7h0M331.5 283.3h0M331.8 285.0h0M331.2 262.0h0M331.2 263.5h0M332.1 265.1h0M331.8 266.6h0M331.8 268.2h0M331.9 269.7h0M332.3 271.2h0M331.8 272.8h0M331.8 274.3h0M332.5 275.8h0M332.2 277.4h0M332.5 278.9h0M332.8 280.5h0M332.9 282.0h0M332.5 219.2h0M331.7 221.5h0M332.1 223.8h0M332.6 226.1h0M332.6 228.4h0M331.9 230.8h0M332.0 233.1h0M332.2 235.4h0M332.1 237.7h0M332.4 240.0h0M332.9 240.0h0M332.7 241.5h0M332.7 243.0h0M332.4 244.4h0M332.7 245.9h0M333.4 247.4h0M333.2 248.9h0M333.0 250.4h0M333.1 251.9h0M333.4 253.3h0M333.5 254.8h0M332.9 256.3h0M333.5 257.8h0M333.2 259.3h0M333.5 260.8h0M333.2 262.2h0M333.4 263.7h0M333.5 265.2h0M333.6 266.7h0M333.3 268.2h0M333.5 269.7h0M333.9 271.1h0M333.5 272.6h0M333.7 274.1h0M334.3 275.6h0M333.9 277.1h0M334.0 278.6h0M334.0 280.1h0M334.6 281.5h0M333.9 283.0h0M334.5 284.5h0M337.1 208.2h0M337.1 214.2h0M337.1 221.2h0M337.5 227.0h0M336.9 228.5h0M337.1 230.0h0M337.6 231.5h0M337.4 233.0h0M337.2 234.5h0M337.0 236.0h0M337.4 237.5h0M337.4 239.0h0M337.8 240.5h0M337.4 242.0h0M337.6 243.5h0M337.9 245.0h0M338.1 246.5h0M337.7 248.0h0M337.8 249.5h0M338.0 251.0h0M338.4 252.5h0M337.8 254.0h0M338.6 255.5h0M338.4 257.0h0M338.1 258.5h0M338.4 260.0h0M338.2 261.5h0M338.0 263.0h0M338.7 264.5h0M338.4 266.0h0M338.6 267.5h0M338.6 269.0h0M340.9 272.5h0M341.3 274.1h0M341.2 275.6h0M342.3 277.2h0M342.7 278.8h0M343.3 280.3h0M344.2 281.9h0M344.4 283.4h0M345.0 285.0h0M345.6 230.0h0M345.2 231.5h0M345.3 233.0h0M345.3 234.6h0M345.7 236.1h0M345.6 237.6h0M345.7 239.1h0M345.4 240.6h0M345.0 242.1h0M345.7 243.7h0M345.6 245.2h0M345.9 246.7h0M345.9 248.2h0M345.3 249.7h0M345.5 251.2h0M345.3 252.8h0M346.1 254.3h0M345.4 255.8h0M345.5 257.3h0M346.2 258.8h0M346.0 260.3h0M345.6 261.9h0M346.2 263.4h0M346.3 264.9h0M346.1 266.4h0M345.7 267.9h0M346.4 269.4h0M346.1 271.0h0M346.3 272.5h0M346.8 274.0h0M346.8 274.0h0M347.4 275.6h0M347.1 277.1h0M347.8 278.7h0M348.5 280.3h0M348.5 281.9h0M350.0 283.4h0M349.8 285.0h0M351.8 189.0h0M351.8 208.2h0M351.8 220.2h0M351.8 227.3h0M351.8 234.3h0M351.8 239.3h0M351.8 245.0h0M352.0 250.0h0M352.0 253.0h0M352.1 254.5h0M352.2 256.0h0M352.9 257.5h0M352.8 259.0h0M352.9 260.5h0M352.9 262.0h0M352.7 263.5h0M353.0 265.0h0M353.7 266.5h0M353.8 268.0h0M354.0 269.5h0M353.5 271.0h0M353.6 272.5h0M353.6 274.0h0M359.3 280.2h0M357.6 283.6h0M355.9 287.0h0M355.0 290.5h0M360.6 265.0h0M360.5 266.5h0M360.6 268.0h0M360.6 269.5h0M360.7 271.0h0M360.5 272.5h0M360.9 274.0h0M360.3 275.5h0M361.0 277.0h0M360.7 278.5h0M360.2 280.0h0M360.4 281.5h0M360.6 283.0h0M362.2 258.0h0M362.4 259.5h0M362.1 260.9h0M362.1 262.4h0M362.6 263.8h0M362.1 265.3h0M362.5 266.7h0M362.6 268.2h0M362.4 269.6h0M362.3 271.1h0M362.7 272.5h0M362.2 274.0h0M366.6 214.0h0M366.6 217.1h0M366.6 220.3h0M366.6 223.8h0M366.6 228.3h0M366.6 233.3h0M366.6 238.1h0M364.4 243.0h0M363.6 244.5h0M363.9 246.0h0M364.1 247.6h0M363.5 249.1h0M364.4 250.6h0M363.6 252.1h0M364.1 253.6h0M363.7 255.1h0M364.4 256.7h0M364.1 258.2h0M364.3 259.7h0M364.0 261.2h0M364.2 262.7h0M364.2 264.3h0M363.8 265.8h0M363.7 267.3h0M364.3 268.8h0M363.6 270.3h0M364.4 271.9h0M363.7 273.4h0M363.6 274.9h0M363.6 276.4h0M364.3 277.9h0M364.5 279.4h0M363.9 281.0h0M364.2 282.5h0M363.8 284.0h0M367.0 242.7h0M366.8 244.2h0M366.3 245.6h0M366.2 247.1h0M366.8 248.6h0M366.1 250.1h0M366.9 251.5h0M366.4 253.0h0M366.3 254.5h0M366.7 256.0h0M366.4 257.4h0M366.7 258.9h0M366.3 260.4h0M367.0 261.9h0M366.4 263.4h0M366.9 264.8h0M366.3 266.3h0M366.9 267.8h0M367.1 269.2h0M366.5 270.7h0M366.1 272.2h0M366.5 273.7h0M366.7 275.1h0M366.3 276.6h0M366.6 278.1h0M366.2 279.6h0M366.6 281.1h0M366.8 282.5h0M366.5 284.0h0M369.2 244.5h0M368.6 246.0h0M369.3 247.5h0M368.6 249.1h0M369.4 250.6h0M369.5 252.1h0M369.4 253.6h0M369.0 255.1h0M368.8 256.7h0M368.8 258.2h0M369.3 259.7h0M369.0 261.2h0M369.4 262.7h0M368.6 264.2h0M369.0 265.8h0M369.4 267.3h0M369.1 268.8h0M369.0 270.3h0M368.6 271.8h0M368.6 273.4h0M368.8 274.9h0M369.4 276.4h0M369.3 277.9h0M368.7 279.4h0M369.4 281.0h0M368.5 282.5h0M369.1 284.0h0M371.8 245.0h0M371.1 246.5h0M371.7 248.0h0M371.5 249.4h0M370.9 250.9h0M371.1 252.4h0M371.2 253.9h0M371.0 255.4h0M371.5 256.8h0M371.0 258.3h0M371.6 259.8h0M371.1 261.3h0M370.9 262.8h0M371.4 264.2h0M370.9 265.7h0M371.4 267.2h0M371.6 268.7h0M371.4 270.2h0M371.3 271.6h0M370.8 273.1h0M371.3 274.6h0M370.9 276.1h0M371.4 277.6h0M370.9 279.0h0M371.4 280.5h0M371.2 282.0h0M374.0 222.2h0M374.3 224.6h0M373.8 227.0h0M373.8 229.5h0M374.5 231.9h0M373.9 234.3h0M374.4 236.7h0M374.5 239.2h0M374.1 241.6h0M373.7 244.0h0M373.7 244.0h0M374.5 245.5h0M373.7 247.1h0M374.1 248.6h0M374.1 250.1h0M373.7 251.6h0M374.1 253.2h0M373.8 254.7h0M374.1 256.2h0M374.1 257.7h0M374.0 259.3h0M373.8 260.8h0M374.0 262.3h0M373.8 263.8h0M373.7 265.4h0M373.8 266.9h0M374.5 268.4h0M374.1 269.9h0M374.5 271.5h0M373.6 273.0h0M377.2 245.0h0M376.8 246.5h0M377.1 247.9h0M376.9 249.4h0M377.0 250.9h0M376.5 252.4h0M377.1 253.8h0M376.5 255.3h0M376.6 256.8h0M376.3 258.3h0M376.7 259.7h0M376.8 261.2h0M376.6 262.7h0M377.2 264.2h0M376.4 265.6h0M376.9 267.1h0M376.5 268.6h0M376.9 270.1h0M377.1 271.5h0M377.0 273.0h0M379.9 224.0h0M380.0 226.2h0M380.4 228.4h0M380.8 230.7h0M379.8 232.9h0M380.4 235.1h0M380.5 237.3h0M380.6 239.6h0M380.1 241.8h0M380.6 244.0h0M380.3 244.0h0M380.7 245.5h0M379.8 247.1h0M380.7 248.6h0M380.2 250.1h0M380.2 251.6h0M379.9 253.2h0M380.0 254.7h0M380.5 256.2h0M380.5 257.7h0M380.0 259.3h0M380.1 260.8h0M379.9 262.3h0M380.0 263.8h0M380.0 265.4h0M380.1 266.9h0M380.8 268.4h0M380.8 269.9h0M380.6 271.5h0M380.3 273.0h0M378.6 246.0h0M378.9 247.5h0M379.0 249.0h0M378.9 250.5h0M378.7 252.0h0M378.3 253.5h0M378.7 255.0h0M378.9 256.5h0M378.9 258.0h0M378.2 259.5h0M378.8 261.0h0M378.4 262.5h0M378.3 264.0h0M379.1 265.5h0M378.8 267.0h0M378.8 268.5h0M378.2 270.0h0M378.9 271.5h0M379.0 273.0h0M384.1 276.8h0M383.7 281.0h0M383.2 285.3h0M382.4 289.6h0M382.0 291.5h0M388.8 202.6h0M388.8 206.8h0M388.8 210.3h0M388.8 218.0h0M388.8 222.2h0M388.8 226.5h0M388.8 230.8h0M389.2 234.0h0M389.0 235.5h0M389.1 237.0h0M389.1 238.5h0M388.9 240.0h0M388.7 241.5h0M389.1 243.0h0M389.1 244.5h0M389.2 246.0h0M388.6 247.5h0M389.3 249.0h0M388.8 250.5h0M389.2 252.0h0M388.4 253.5h0M389.3 255.0h0M389.1 256.5h0M388.6 258.0h0M389.1 259.5h0M388.5 261.0h0M388.5 262.5h0M388.8 264.0h0M388.5 265.5h0M388.8 267.0h0M389.2 268.5h0M389.0 270.0h0M389.0 271.5h0M388.7 273.0h0M389.1 274.5h0M389.1 276.0h0M386.5 246.0h0M386.7 247.5h0M386.6 248.9h0M386.2 250.4h0M385.9 251.9h0M386.5 253.4h0M386.6 254.8h0M386.1 256.3h0M386.4 257.8h0M386.6 259.3h0M386.6 260.7h0M385.8 262.2h0M386.3 263.7h0M385.8 265.2h0M385.9 266.6h0M386.6 268.1h0M386.2 269.6h0M386.4 271.1h0M386.3 272.5h0M386.1 274.0h0M390.7 238.0h0M390.9 239.5h0M391.3 241.0h0M391.1 242.6h0M390.8 244.1h0M390.6 245.6h0M390.8 247.1h0M391.2 248.6h0M390.9 250.2h0M391.2 251.7h0M391.3 253.2h0M390.6 254.7h0M391.2 256.2h0M390.5 257.8h0M391.3 259.3h0M390.7 260.8h0M390.8 262.3h0M391.5 263.8h0M390.9 265.4h0M390.7 266.9h0M391.4 268.4h0M391.1 269.9h0M391.4 271.4h0M390.9 273.0h0M391.0 274.5h0M391.5 276.0h0M393.3 242.0h0M393.8 243.5h0M393.0 245.0h0M393.6 246.4h0M393.0 247.9h0M393.3 249.4h0M392.8 250.9h0M393.0 252.4h0M393.7 253.9h0M393.3 255.3h0M393.6 256.8h0M393.1 258.3h0M393.2 259.8h0M392.9 261.3h0M393.4 262.7h0M393.7 264.2h0M393.3 265.7h0M393.2 267.2h0M393.7 268.7h0M393.7 270.1h0M393.5 271.6h0M392.9 273.1h0M393.4 274.6h0M393.2 276.1h0M393.8 277.6h0M393.2 279.0h0M393.5 280.5h0M393.4 282.0h0M395.5 247.0h0M395.6 248.5h0M395.8 250.0h0M396.0 251.6h0M395.6 253.1h0M395.5 254.6h0M396.1 256.1h0M395.2 257.7h0M395.9 259.2h0M395.8 260.7h0M395.7 262.2h0M395.5 263.7h0M395.9 265.3h0M396.0 266.8h0M395.8 268.3h0M395.8 269.8h0M395.1 271.3h0M395.4 272.9h0M395.2 274.4h0M396.1 275.9h0M396.0 277.4h0M395.2 279.0h0M395.7 280.5h0M395.7 282.0h0M397.3 252.0h0M397.7 253.5h0M398.0 255.0h0M397.9 256.4h0M397.6 257.9h0M398.1 259.4h0M397.6 260.9h0M397.8 262.3h0M397.7 263.8h0M398.3 265.3h0M397.9 266.8h0M398.1 268.2h0M398.0 269.7h0M397.7 271.2h0M398.3 272.7h0M398.0 274.1h0M398.0 275.6h0M397.6 277.1h0M397.5 278.6h0M397.9 280.0h0M398.1 281.5h0M398.1 283.0h0M399.8 256.0h0M399.6 257.5h0M400.0 259.0h0M400.4 260.5h0M399.7 262.0h0M400.2 263.5h0M399.7 265.0h0M399.8 266.5h0M399.6 268.0h0M399.8 269.5h0M399.9 271.0h0M400.5 272.5h0M400.5 274.0h0M399.7 275.5h0M399.8 277.0h0M400.4 278.5h0M399.7 280.0h0M399.8 281.5h0M399.9 283.0h0M404.0 257.0h0M404.2 258.5h0M404.3 260.1h0M404.3 261.6h0M404.9 263.1h0M404.2 264.6h0M404.1 266.2h0M404.8 267.7h0M404.4 269.2h0M404.7 270.7h0M404.5 272.3h0M404.7 273.8h0M404.2 275.3h0M404.1 276.8h0M404.7 278.4h0M404.4 279.9h0M404.5 281.4h0M404.6 282.9h0M404.7 284.5h0M404.2 286.0h0M406.2 230.8h0M406.7 232.7h0M406.3 234.7h0M406.1 236.6h0M406.4 238.5h0M406.1 240.4h0M406.6 242.4h0M405.8 244.3h0M406.6 246.2h0M406.4 248.1h0M406.2 250.1h0M406.7 252.0h0M406.6 252.0h0M406.5 253.5h0M406.4 255.0h0M406.8 256.6h0M407.1 258.1h0M407.0 259.6h0M406.7 261.1h0M407.1 262.7h0M406.4 264.2h0M406.6 265.7h0M406.9 267.2h0M407.3 268.8h0M406.9 270.3h0M407.0 271.8h0M407.1 273.3h0M406.7 274.9h0M407.2 276.4h0M407.0 277.9h0M406.6 279.4h0M406.7 281.0h0M407.1 282.5h0M406.6 284.0h0M408.9 243.0h0M409.6 244.5h0M409.2 246.0h0M409.2 247.5h0M409.4 249.0h0M409.6 250.5h0M408.8 252.0h0M409.0 253.5h0M408.8 255.0h0M409.1 256.5h0M409.2 258.0h0M409.6 259.5h0M409.4 261.0h0M409.3 262.5h0M409.1 264.0h0M409.3 265.5h0M409.0 267.0h0M409.5 268.5h0M409.5 270.0h0M409.5 271.5h0M408.9 273.0h0M409.4 274.5h0M409.5 276.0h0M409.2 277.5h0M409.6 279.0h0M409.6 280.5h0M409.4 282.0h0M409.5 283.5h0M409.3 285.0h0M412.0 243.0h0M411.2 244.5h0M411.8 246.0h0M411.8 247.5h0M411.7 249.0h0M411.4 250.5h0M411.2 252.0h0M411.7 253.5h0M411.9 255.0h0M411.4 256.5h0M411.3 258.0h0M411.3 259.5h0M411.2 261.0h0M411.8 262.5h0M412.1 264.0h0M411.9 265.5h0M411.5 267.0h0M411.8 268.5h0M411.2 270.0h0M411.9 271.5h0M411.4 273.0h0M411.1 274.5h0M411.7 276.0h0M411.2 277.5h0M411.4 279.0h0M411.2 280.5h0M411.5 282.0h0M411.7 283.5h0M411.9 285.0h0M413.5 243.0h0M414.3 244.5h0M413.6 246.0h0M413.7 247.5h0M414.1 249.0h0M413.8 250.5h0M413.8 252.0h0M414.1 253.5h0M413.7 255.0h0M414.3 256.5h0M413.7 258.0h0M414.3 259.5h0M414.3 261.0h0M414.0 262.5h0M413.5 264.0h0M414.3 265.5h0M413.5 267.0h0M414.0 268.5h0M413.9 270.0h0M413.6 271.5h0M414.1 273.0h0M414.2 274.5h0M414.1 276.0h0M413.9 277.5h0M414.0 279.0h0M414.1 280.5h0M413.7 282.0h0M414.4 283.5h0M414.5 285.0h0M416.8 243.0h0M417.0 244.5h0M416.3 246.0h0M417.0 247.5h0M416.1 249.0h0M416.5 250.5h0M416.1 252.0h0M416.5 253.5h0M416.7 255.0h0M416.7 256.5h0M416.5 258.0h0M416.3 259.5h0M416.2 261.0h0M416.4 262.5h0M416.3 264.0h0M416.2 265.5h0M416.7 267.0h0M416.5 268.5h0M416.4 270.0h0M416.2 271.5h0M416.7 273.0h0M418.5 243.0h0M418.6 244.5h0M418.9 245.9h0M419.0 247.4h0M419.3 248.9h0M419.0 250.4h0M419.2 251.8h0M419.2 253.3h0M419.0 254.8h0M419.0 256.3h0M418.4 257.8h0M418.5 259.2h0M418.3 260.7h0M419.2 262.2h0M419.0 263.6h0M418.9 265.1h0M418.6 266.6h0M418.7 268.1h0M418.5 269.6h0M418.9 271.0h0M419.3 272.5h0M415.6 189.0h0M415.6 193.5h0M412.0 197.7h0M411.4 203.4h0M411.4 213.7h0M411.4 224.8h0M411.4 231.6h0M411.4 235.9h0M411.4 240.2h0M415.2 206.8h0M415.2 212.0h0M415.2 216.2h0M415.2 222.2h0M415.2 226.5h0M415.2 230.8h0M415.2 236.0h0M415.2 241.0h0M419.0 212.8h0M419.0 216.2h0M419.0 219.7h0M419.0 222.2h0M419.0 225.6h0M419.0 229.0h0M419.0 235.0h0M419.0 240.2h0M423.4 235.0h0M424.6 265.6h0M424.3 267.1h0M424.5 268.6h0M424.7 270.1h0M425.2 271.7h0M425.1 273.2h0M424.8 274.7h0M424.4 276.2h0M424.4 277.7h0M424.5 279.2h0M425.1 280.8h0M424.8 282.3h0M425.3 283.8h0M425.2 285.3h0M427.3 266.0h0M427.0 267.5h0M427.3 268.9h0M426.6 270.4h0M426.6 271.8h0M427.1 273.3h0M427.0 274.8h0M426.7 276.2h0M426.8 277.7h0M426.5 279.2h0M427.4 280.6h0M427.2 282.1h0M427.4 283.5h0M427.5 285.0h0M428.8 221.4h0M428.8 229.0h0M428.8 236.8h0M428.8 241.9h0M428.8 247.9h0M428.9 252.5h0M429.2 254.0h0M428.9 255.6h0M429.3 257.1h0M429.3 258.6h0M428.6 260.2h0M428.5 261.7h0M428.7 263.2h0M429.1 264.8h0M428.9 266.3h0M428.5 267.9h0M429.3 269.4h0M429.3 270.9h0M429.0 272.5h0M428.5 274.0h0M431.7 258.0h0M431.3 259.6h0M430.9 261.1h0M431.1 262.7h0M431.4 264.3h0M431.7 265.9h0M431.3 267.4h0M431.4 269.0h0" stroke="#595959" stroke-width="4.4" stroke-linecap="round" fill="none"/>
</g>
</svg>
</body></html>
